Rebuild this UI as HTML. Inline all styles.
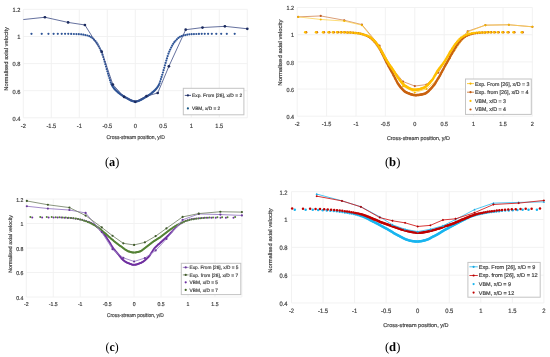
<!DOCTYPE html>
<html><head><meta charset="utf-8"><style>
html,body{margin:0;padding:0;background:#fff;}
body{width:550px;height:357px;overflow:hidden;font-family:"Liberation Sans",sans-serif;}
svg{display:block;filter:blur(0.4px);text-rendering:geometricPrecision;}
</style></head><body>
<svg width="550" height="357" viewBox="0 0 550 357">
<rect width="550" height="357" fill="#fff"/>
<path d="M23.30 9.40V117.80M51.30 9.40V117.80M79.30 9.40V117.80M107.30 9.40V117.80M135.30 9.40V117.80M163.30 9.40V117.80M191.30 9.40V117.80M219.30 9.40V117.80M247.30 9.40V117.80M23.30 117.80H247.30M23.30 90.70H247.30M23.30 63.60H247.30M23.30 36.50H247.30M23.30 9.40H247.30" stroke="#f0f0f0" stroke-width="0.9" fill="none"/>
<text x="23.30" y="127.90" font-size="6.1" text-anchor="middle" fill="#404040" stroke="#404040" stroke-width="0.18" textLength="5.0" lengthAdjust="spacingAndGlyphs" font-family="Liberation Sans" >-2</text>
<text x="51.30" y="127.90" font-size="6.1" text-anchor="middle" fill="#404040" stroke="#404040" stroke-width="0.18" textLength="9.8" lengthAdjust="spacingAndGlyphs" font-family="Liberation Sans" >-1.5</text>
<text x="79.30" y="127.90" font-size="6.1" text-anchor="middle" fill="#404040" stroke="#404040" stroke-width="0.18" textLength="5.0" lengthAdjust="spacingAndGlyphs" font-family="Liberation Sans" >-1</text>
<text x="107.30" y="127.90" font-size="6.1" text-anchor="middle" fill="#404040" stroke="#404040" stroke-width="0.18" textLength="9.8" lengthAdjust="spacingAndGlyphs" font-family="Liberation Sans" >-0.5</text>
<text x="135.30" y="127.90" font-size="6.1" text-anchor="middle" fill="#404040" stroke="#404040" stroke-width="0.18" textLength="3.2" lengthAdjust="spacingAndGlyphs" font-family="Liberation Sans" >0</text>
<text x="163.30" y="127.90" font-size="6.1" text-anchor="middle" fill="#404040" stroke="#404040" stroke-width="0.18" textLength="7.9" lengthAdjust="spacingAndGlyphs" font-family="Liberation Sans" >0.5</text>
<text x="191.30" y="127.90" font-size="6.1" text-anchor="middle" fill="#404040" stroke="#404040" stroke-width="0.18" textLength="3.2" lengthAdjust="spacingAndGlyphs" font-family="Liberation Sans" >1</text>
<text x="219.30" y="127.90" font-size="6.1" text-anchor="middle" fill="#404040" stroke="#404040" stroke-width="0.18" textLength="7.9" lengthAdjust="spacingAndGlyphs" font-family="Liberation Sans" >1.5</text>
<text x="20.40" y="120.60" font-size="6.1" text-anchor="end" fill="#404040" stroke="#404040" stroke-width="0.18" textLength="7.9" lengthAdjust="spacingAndGlyphs" font-family="Liberation Sans" >0.4</text>
<text x="20.40" y="93.50" font-size="6.1" text-anchor="end" fill="#404040" stroke="#404040" stroke-width="0.18" textLength="7.9" lengthAdjust="spacingAndGlyphs" font-family="Liberation Sans" >0.6</text>
<text x="20.40" y="66.40" font-size="6.1" text-anchor="end" fill="#404040" stroke="#404040" stroke-width="0.18" textLength="7.9" lengthAdjust="spacingAndGlyphs" font-family="Liberation Sans" >0.8</text>
<text x="20.40" y="39.30" font-size="6.1" text-anchor="end" fill="#404040" stroke="#404040" stroke-width="0.18" textLength="3.2" lengthAdjust="spacingAndGlyphs" font-family="Liberation Sans" >1</text>
<text x="20.40" y="12.20" font-size="6.1" text-anchor="end" fill="#404040" stroke="#404040" stroke-width="0.18" textLength="7.9" lengthAdjust="spacingAndGlyphs" font-family="Liberation Sans" >1.2</text>
<g fill="#2f5597"><circle cx="31.48" cy="33.79" r="1.1"/><circle cx="41.72" cy="33.79" r="1.1"/><circle cx="48.44" cy="33.79" r="1.1"/><circle cx="53.60" cy="33.79" r="1.1"/><circle cx="57.80" cy="33.79" r="1.1"/><circle cx="61.72" cy="33.79" r="1.1"/><circle cx="65.08" cy="33.80" r="1.1"/><circle cx="68.27" cy="33.84" r="1.1"/><circle cx="71.18" cy="33.90" r="1.1"/><circle cx="73.87" cy="33.98" r="1.1"/><circle cx="76.39" cy="34.07" r="1.1"/><circle cx="78.80" cy="34.17" r="1.1"/><circle cx="81.15" cy="34.35" r="1.1"/><circle cx="83.28" cy="34.65" r="1.1"/><circle cx="85.35" cy="35.05" r="1.1"/><circle cx="87.36" cy="35.52" r="1.1"/><circle cx="89.27" cy="36.18" r="1.1"/><circle cx="91.00" cy="37.06" r="1.1"/><circle cx="92.57" cy="38.25" r="1.1"/><circle cx="94.03" cy="39.64" r="1.1"/><circle cx="95.37" cy="41.12" r="1.1"/><circle cx="96.60" cy="42.66" r="1.1"/><circle cx="97.72" cy="44.37" r="1.1"/><circle cx="98.79" cy="46.25" r="1.1"/><circle cx="99.80" cy="48.24" r="1.1"/><circle cx="100.75" cy="50.28" r="1.1"/><circle cx="101.64" cy="52.35" r="1.1"/><circle cx="102.48" cy="54.66" r="1.1"/><circle cx="103.27" cy="57.10" r="1.1"/><circle cx="104.00" cy="59.48" r="1.1"/><circle cx="104.67" cy="61.73" r="1.1"/><circle cx="105.34" cy="64.14" r="1.1"/><circle cx="106.01" cy="66.62" r="1.1"/><circle cx="106.68" cy="69.04" r="1.1"/><circle cx="107.36" cy="71.35" r="1.1"/><circle cx="108.03" cy="73.64" r="1.1"/><circle cx="108.70" cy="75.87" r="1.1"/><circle cx="109.37" cy="78.00" r="1.1"/><circle cx="110.04" cy="80.19" r="1.1"/><circle cx="110.72" cy="82.33" r="1.1"/><circle cx="111.39" cy="84.18" r="1.1"/><circle cx="112.06" cy="85.51" r="1.1"/><circle cx="112.73" cy="86.60" r="1.1"/><circle cx="113.40" cy="87.56" r="1.1"/><circle cx="114.08" cy="88.42" r="1.1"/><circle cx="114.75" cy="89.19" r="1.1"/><circle cx="115.42" cy="89.90" r="1.1"/><circle cx="116.09" cy="90.56" r="1.1"/><circle cx="116.76" cy="91.19" r="1.1"/><circle cx="117.44" cy="91.80" r="1.1"/><circle cx="118.11" cy="92.39" r="1.1"/><circle cx="118.78" cy="92.96" r="1.1"/><circle cx="119.45" cy="93.50" r="1.1"/><circle cx="120.12" cy="94.01" r="1.1"/><circle cx="120.80" cy="94.50" r="1.1"/><circle cx="121.47" cy="94.98" r="1.1"/><circle cx="122.14" cy="95.43" r="1.1"/><circle cx="122.81" cy="95.86" r="1.1"/><circle cx="123.48" cy="96.27" r="1.1"/><circle cx="124.16" cy="96.66" r="1.1"/><circle cx="124.83" cy="97.04" r="1.1"/><circle cx="125.50" cy="97.41" r="1.1"/><circle cx="126.17" cy="97.80" r="1.1"/><circle cx="126.84" cy="98.19" r="1.1"/><circle cx="127.52" cy="98.58" r="1.1"/><circle cx="128.19" cy="98.97" r="1.1"/><circle cx="128.86" cy="99.35" r="1.1"/><circle cx="129.53" cy="99.72" r="1.1"/><circle cx="130.20" cy="100.07" r="1.1"/><circle cx="130.88" cy="100.39" r="1.1"/><circle cx="131.55" cy="100.69" r="1.1"/><circle cx="132.22" cy="100.95" r="1.1"/><circle cx="132.89" cy="101.17" r="1.1"/><circle cx="133.56" cy="101.34" r="1.1"/><circle cx="134.24" cy="101.46" r="1.1"/><circle cx="134.91" cy="101.53" r="1.1"/><circle cx="136.03" cy="101.50" r="1.1"/><circle cx="136.70" cy="101.41" r="1.1"/><circle cx="137.37" cy="101.26" r="1.1"/><circle cx="138.04" cy="101.06" r="1.1"/><circle cx="138.72" cy="100.82" r="1.1"/><circle cx="139.39" cy="100.55" r="1.1"/><circle cx="140.06" cy="100.24" r="1.1"/><circle cx="140.73" cy="99.90" r="1.1"/><circle cx="141.40" cy="99.54" r="1.1"/><circle cx="142.08" cy="99.16" r="1.1"/><circle cx="142.75" cy="98.78" r="1.1"/><circle cx="143.42" cy="98.38" r="1.1"/><circle cx="144.09" cy="97.99" r="1.1"/><circle cx="144.76" cy="97.60" r="1.1"/><circle cx="145.44" cy="97.22" r="1.1"/><circle cx="146.11" cy="96.85" r="1.1"/><circle cx="146.78" cy="96.47" r="1.1"/><circle cx="147.45" cy="96.07" r="1.1"/><circle cx="148.12" cy="95.64" r="1.1"/><circle cx="148.80" cy="95.20" r="1.1"/><circle cx="149.47" cy="94.74" r="1.1"/><circle cx="150.14" cy="94.26" r="1.1"/><circle cx="150.81" cy="93.76" r="1.1"/><circle cx="151.48" cy="93.23" r="1.1"/><circle cx="152.16" cy="92.68" r="1.1"/><circle cx="152.83" cy="92.10" r="1.1"/><circle cx="153.50" cy="91.50" r="1.1"/><circle cx="154.17" cy="90.88" r="1.1"/><circle cx="154.84" cy="90.23" r="1.1"/><circle cx="155.52" cy="89.55" r="1.1"/><circle cx="156.19" cy="88.82" r="1.1"/><circle cx="156.86" cy="88.00" r="1.1"/><circle cx="157.53" cy="87.09" r="1.1"/><circle cx="158.20" cy="86.07" r="1.1"/><circle cx="158.88" cy="84.90" r="1.1"/><circle cx="159.55" cy="83.31" r="1.1"/><circle cx="160.22" cy="81.28" r="1.1"/><circle cx="160.89" cy="79.08" r="1.1"/><circle cx="161.56" cy="76.95" r="1.1"/><circle cx="162.24" cy="74.76" r="1.1"/><circle cx="162.91" cy="72.50" r="1.1"/><circle cx="163.58" cy="70.20" r="1.1"/><circle cx="164.25" cy="67.84" r="1.1"/><circle cx="164.92" cy="65.38" r="1.1"/><circle cx="165.60" cy="62.92" r="1.1"/><circle cx="166.27" cy="60.58" r="1.1"/><circle cx="166.94" cy="58.38" r="1.1"/><circle cx="167.67" cy="56.03" r="1.1"/><circle cx="168.45" cy="53.69" r="1.1"/><circle cx="169.29" cy="51.55" r="1.1"/><circle cx="170.19" cy="49.54" r="1.1"/><circle cx="171.14" cy="47.55" r="1.1"/><circle cx="172.15" cy="45.63" r="1.1"/><circle cx="173.21" cy="43.83" r="1.1"/><circle cx="174.33" cy="42.21" r="1.1"/><circle cx="175.56" cy="40.74" r="1.1"/><circle cx="176.91" cy="39.30" r="1.1"/><circle cx="178.36" cy="37.97" r="1.1"/><circle cx="179.93" cy="36.86" r="1.1"/><circle cx="181.61" cy="36.06" r="1.1"/><circle cx="183.40" cy="35.47" r="1.1"/><circle cx="185.31" cy="35.04" r="1.1"/><circle cx="187.27" cy="34.66" r="1.1"/><circle cx="189.34" cy="34.36" r="1.1"/><circle cx="191.58" cy="34.18" r="1.1"/><circle cx="193.93" cy="34.08" r="1.1"/><circle cx="196.34" cy="33.99" r="1.1"/><circle cx="198.92" cy="33.92" r="1.1"/><circle cx="201.72" cy="33.85" r="1.1"/><circle cx="204.74" cy="33.81" r="1.1"/><circle cx="208.10" cy="33.79" r="1.1"/><circle cx="211.80" cy="33.79" r="1.1"/><circle cx="216.28" cy="33.79" r="1.1"/><circle cx="221.20" cy="33.79" r="1.1"/><circle cx="226.80" cy="33.79" r="1.1"/><circle cx="234.70" cy="33.79" r="1.1"/></g>
<polyline points="23.30,19.56 44.92,17.26 68.10,22.41 84.90,24.98 101.70,51.68 112.90,84.60 124.10,96.93 135.30,101.81 146.50,96.12 157.70,93.00 168.90,66.31 185.70,29.72 202.50,27.56 224.90,26.34 247.30,28.78" fill="none" stroke="#3d4c85" stroke-width="0.8" stroke-linejoin="round"/>
<g fill="#1b2a5e"><circle cx="44.92" cy="17.26" r="1.35"/><circle cx="68.10" cy="22.41" r="1.35"/><circle cx="84.90" cy="24.98" r="1.35"/><circle cx="101.70" cy="51.68" r="1.35"/><circle cx="112.90" cy="84.60" r="1.35"/><circle cx="124.10" cy="96.93" r="1.35"/><circle cx="135.30" cy="101.81" r="1.35"/><circle cx="146.50" cy="96.12" r="1.35"/><circle cx="157.70" cy="93.00" r="1.35"/><circle cx="168.90" cy="66.31" r="1.35"/><circle cx="185.70" cy="29.72" r="1.35"/><circle cx="202.50" cy="27.56" r="1.35"/><circle cx="224.90" cy="26.34" r="1.35"/><circle cx="247.30" cy="28.78" r="1.35"/></g>
<text x="135.65" y="139.40" font-size="5.5" text-anchor="middle" fill="#404040" stroke="#404040" stroke-width="0.18" textLength="58.3" lengthAdjust="spacingAndGlyphs" font-family="Liberation Sans" >Cross-stream position, y/D</text>
<text transform="translate(6.20,58.90) rotate(-90)" x="0" y="1.98" font-size="5.5" text-anchor="middle" fill="#404040" stroke="#404040" stroke-width="0.18" textLength="63.6" lengthAdjust="spacingAndGlyphs" font-family="Liberation Sans">Normalised axial velocity</text>
<rect x="183.30" y="88.30" width="60.60" height="26.50" fill="#fff" stroke="#c4c4c4" stroke-width="1"/>
<line x1="184.80" y1="95.40" x2="191.00" y2="95.40" stroke="#33447e" stroke-width="0.9"/>
<circle cx="187.90" cy="95.40" r="1.1" fill="#1b2a5e"/>
<text x="192.00" y="97.13" font-size="4.8" text-anchor="start" fill="#404040" stroke="#404040" stroke-width="0.18" textLength="50.1" lengthAdjust="spacingAndGlyphs" font-family="Liberation Sans" >Exp. From [26], x/D = 2</text>
<circle cx="187.90" cy="108.40" r="1.1" fill="#1d5a85"/>
<text x="192.00" y="110.13" font-size="4.8" text-anchor="start" fill="#404040" stroke="#404040" stroke-width="0.18" textLength="28.2" lengthAdjust="spacingAndGlyphs" font-family="Liberation Sans" >VBM, x/D = 2</text>
<path d="M297.20 7.50V116.22M326.60 7.50V116.22M356.00 7.50V116.22M385.40 7.50V116.22M414.80 7.50V116.22M444.20 7.50V116.22M473.60 7.50V116.22M503.00 7.50V116.22M532.40 7.50V116.22M297.20 116.22H532.40M297.20 89.04H532.40M297.20 61.86H532.40M297.20 34.68H532.40M297.20 7.50H532.40" stroke="#f0f0f0" stroke-width="0.9" fill="none"/>
<text x="297.20" y="126.30" font-size="5.9" text-anchor="middle" fill="#404040" stroke="#404040" stroke-width="0.18" textLength="4.9" lengthAdjust="spacingAndGlyphs" font-family="Liberation Sans" >-2</text>
<text x="326.60" y="126.30" font-size="5.9" text-anchor="middle" fill="#404040" stroke="#404040" stroke-width="0.18" textLength="9.5" lengthAdjust="spacingAndGlyphs" font-family="Liberation Sans" >-1.5</text>
<text x="356.00" y="126.30" font-size="5.9" text-anchor="middle" fill="#404040" stroke="#404040" stroke-width="0.18" textLength="4.9" lengthAdjust="spacingAndGlyphs" font-family="Liberation Sans" >-1</text>
<text x="385.40" y="126.30" font-size="5.9" text-anchor="middle" fill="#404040" stroke="#404040" stroke-width="0.18" textLength="9.5" lengthAdjust="spacingAndGlyphs" font-family="Liberation Sans" >-0.5</text>
<text x="414.80" y="126.30" font-size="5.9" text-anchor="middle" fill="#404040" stroke="#404040" stroke-width="0.18" textLength="3.1" lengthAdjust="spacingAndGlyphs" font-family="Liberation Sans" >0</text>
<text x="444.20" y="126.30" font-size="5.9" text-anchor="middle" fill="#404040" stroke="#404040" stroke-width="0.18" textLength="7.6" lengthAdjust="spacingAndGlyphs" font-family="Liberation Sans" >0.5</text>
<text x="473.60" y="126.30" font-size="5.9" text-anchor="middle" fill="#404040" stroke="#404040" stroke-width="0.18" textLength="3.1" lengthAdjust="spacingAndGlyphs" font-family="Liberation Sans" >1</text>
<text x="503.00" y="126.30" font-size="5.9" text-anchor="middle" fill="#404040" stroke="#404040" stroke-width="0.18" textLength="7.6" lengthAdjust="spacingAndGlyphs" font-family="Liberation Sans" >1.5</text>
<text x="532.40" y="126.30" font-size="5.9" text-anchor="middle" fill="#404040" stroke="#404040" stroke-width="0.18" textLength="3.1" lengthAdjust="spacingAndGlyphs" font-family="Liberation Sans" >2</text>
<text x="294.10" y="118.94" font-size="5.9" text-anchor="end" fill="#404040" stroke="#404040" stroke-width="0.18" textLength="7.6" lengthAdjust="spacingAndGlyphs" font-family="Liberation Sans" >0.4</text>
<text x="294.10" y="91.76" font-size="5.9" text-anchor="end" fill="#404040" stroke="#404040" stroke-width="0.18" textLength="7.6" lengthAdjust="spacingAndGlyphs" font-family="Liberation Sans" >0.6</text>
<text x="294.10" y="64.58" font-size="5.9" text-anchor="end" fill="#404040" stroke="#404040" stroke-width="0.18" textLength="7.6" lengthAdjust="spacingAndGlyphs" font-family="Liberation Sans" >0.8</text>
<text x="294.10" y="37.40" font-size="5.9" text-anchor="end" fill="#404040" stroke="#404040" stroke-width="0.18" textLength="3.1" lengthAdjust="spacingAndGlyphs" font-family="Liberation Sans" >1</text>
<text x="294.10" y="10.22" font-size="5.9" text-anchor="end" fill="#404040" stroke="#404040" stroke-width="0.18" textLength="7.6" lengthAdjust="spacingAndGlyphs" font-family="Liberation Sans" >1.2</text>
<polyline points="298.20,16.88 320.72,15.93 344.24,20.27 361.88,24.62 379.52,45.69 391.28,67.30 403.04,81.57 414.80,86.05 426.56,84.56 438.32,72.73 450.08,52.35 467.72,31.28 485.36,25.17 508.88,24.76 532.40,26.80" fill="none" stroke="#cf7d48" stroke-width="0.75" stroke-linejoin="round"/>
<g fill="#c05a20"><circle cx="298.20" cy="16.88" r="1.1"/><circle cx="320.72" cy="15.93" r="1.1"/><circle cx="344.24" cy="20.27" r="1.1"/><circle cx="361.88" cy="24.62" r="1.1"/><circle cx="379.52" cy="45.69" r="1.1"/><circle cx="391.28" cy="67.30" r="1.1"/><circle cx="403.04" cy="81.57" r="1.1"/><circle cx="414.80" cy="86.05" r="1.1"/><circle cx="426.56" cy="84.56" r="1.1"/><circle cx="438.32" cy="72.73" r="1.1"/><circle cx="450.08" cy="52.35" r="1.1"/><circle cx="467.72" cy="31.28" r="1.1"/><circle cx="485.36" cy="25.17" r="1.1"/><circle cx="508.88" cy="24.76" r="1.1"/><circle cx="532.40" cy="26.80" r="1.1"/></g>
<polyline points="298.20,16.88 320.72,19.46 344.24,21.09 361.88,25.17 379.52,46.91 391.28,68.66 403.04,86.32 414.80,92.44 426.56,89.04 438.32,78.58 450.08,57.78 467.72,31.96 485.36,25.17 508.88,24.76 532.40,26.80" fill="none" stroke="#fcd04a" stroke-width="0.75" stroke-linejoin="round"/>
<g fill="#f2b800"><circle cx="298.20" cy="16.88" r="1.0"/><circle cx="320.72" cy="19.46" r="1.0"/><circle cx="344.24" cy="21.09" r="1.0"/><circle cx="361.88" cy="25.17" r="1.0"/><circle cx="379.52" cy="46.91" r="1.0"/><circle cx="391.28" cy="68.66" r="1.0"/><circle cx="403.04" cy="86.32" r="1.0"/><circle cx="414.80" cy="92.44" r="1.0"/><circle cx="426.56" cy="89.04" r="1.0"/><circle cx="438.32" cy="78.58" r="1.0"/><circle cx="450.08" cy="57.78" r="1.0"/><circle cx="467.72" cy="31.96" r="1.0"/><circle cx="485.36" cy="25.17" r="1.0"/><circle cx="508.88" cy="24.76" r="1.0"/><circle cx="532.40" cy="26.80" r="1.0"/></g>
<g fill="#c9620f"><circle cx="306.10" cy="32.25" r="1.25"/><circle cx="316.86" cy="32.27" r="1.25"/><circle cx="323.91" cy="32.28" r="1.25"/><circle cx="329.32" cy="32.30" r="1.25"/><circle cx="333.73" cy="32.31" r="1.25"/><circle cx="337.85" cy="32.33" r="1.25"/><circle cx="341.38" cy="32.35" r="1.25"/><circle cx="344.73" cy="32.37" r="1.25"/><circle cx="347.79" cy="32.42" r="1.25"/><circle cx="350.61" cy="32.55" r="1.25"/><circle cx="353.25" cy="32.73" r="1.25"/><circle cx="355.78" cy="32.94" r="1.25"/><circle cx="358.25" cy="33.22" r="1.25"/><circle cx="360.49" cy="33.68" r="1.25"/><circle cx="362.66" cy="34.24" r="1.25"/><circle cx="364.78" cy="34.92" r="1.25"/><circle cx="366.78" cy="35.76" r="1.25"/><circle cx="368.60" cy="36.69" r="1.25"/><circle cx="370.25" cy="37.76" r="1.25"/><circle cx="371.78" cy="39.03" r="1.25"/><circle cx="373.19" cy="40.35" r="1.25"/><circle cx="374.48" cy="41.70" r="1.25"/><circle cx="375.66" cy="43.09" r="1.25"/><circle cx="376.77" cy="44.54" r="1.25"/><circle cx="377.83" cy="46.02" r="1.25"/><circle cx="378.83" cy="47.50" r="1.25"/><circle cx="379.77" cy="49.02" r="1.25"/><circle cx="380.66" cy="50.59" r="1.25"/><circle cx="381.48" cy="52.16" r="1.25"/><circle cx="382.24" cy="53.68" r="1.25"/><circle cx="382.95" cy="55.12" r="1.25"/><circle cx="383.65" cy="56.57" r="1.25"/><circle cx="384.36" cy="58.02" r="1.25"/><circle cx="385.07" cy="59.45" r="1.25"/><circle cx="385.77" cy="60.85" r="1.25"/><circle cx="386.48" cy="62.19" r="1.25"/><circle cx="387.18" cy="63.51" r="1.25"/><circle cx="387.89" cy="64.82" r="1.25"/><circle cx="388.59" cy="66.13" r="1.25"/><circle cx="389.30" cy="67.42" r="1.25"/><circle cx="390.00" cy="68.71" r="1.25"/><circle cx="390.71" cy="70.00" r="1.25"/><circle cx="391.42" cy="71.28" r="1.25"/><circle cx="392.12" cy="72.56" r="1.25"/><circle cx="392.83" cy="73.84" r="1.25"/><circle cx="393.53" cy="75.16" r="1.25"/><circle cx="394.24" cy="76.52" r="1.25"/><circle cx="394.94" cy="77.90" r="1.25"/><circle cx="395.65" cy="79.28" r="1.25"/><circle cx="396.35" cy="80.63" r="1.25"/><circle cx="397.06" cy="81.93" r="1.25"/><circle cx="397.77" cy="83.17" r="1.25"/><circle cx="398.47" cy="84.32" r="1.25"/><circle cx="399.18" cy="85.36" r="1.25"/><circle cx="399.88" cy="86.27" r="1.25"/><circle cx="400.59" cy="87.13" r="1.25"/><circle cx="401.29" cy="87.97" r="1.25"/><circle cx="402.00" cy="88.77" r="1.25"/><circle cx="402.71" cy="89.53" r="1.25"/><circle cx="403.41" cy="90.24" r="1.25"/><circle cx="404.12" cy="90.89" r="1.25"/><circle cx="404.82" cy="91.46" r="1.25"/><circle cx="405.53" cy="91.95" r="1.25"/><circle cx="406.23" cy="92.35" r="1.25"/><circle cx="406.94" cy="92.68" r="1.25"/><circle cx="407.64" cy="93.00" r="1.25"/><circle cx="408.35" cy="93.30" r="1.25"/><circle cx="409.06" cy="93.60" r="1.25"/><circle cx="409.76" cy="93.87" r="1.25"/><circle cx="410.47" cy="94.13" r="1.25"/><circle cx="411.17" cy="94.37" r="1.25"/><circle cx="411.88" cy="94.58" r="1.25"/><circle cx="412.58" cy="94.76" r="1.25"/><circle cx="413.29" cy="94.91" r="1.25"/><circle cx="413.99" cy="95.03" r="1.25"/><circle cx="414.70" cy="95.11" r="1.25"/><circle cx="415.41" cy="95.15" r="1.25"/><circle cx="416.17" cy="95.15" r="1.25"/><circle cx="416.88" cy="95.12" r="1.25"/><circle cx="417.58" cy="95.08" r="1.25"/><circle cx="418.29" cy="95.01" r="1.25"/><circle cx="418.99" cy="94.92" r="1.25"/><circle cx="419.70" cy="94.82" r="1.25"/><circle cx="420.40" cy="94.70" r="1.25"/><circle cx="421.11" cy="94.57" r="1.25"/><circle cx="421.82" cy="94.42" r="1.25"/><circle cx="422.52" cy="94.27" r="1.25"/><circle cx="423.23" cy="94.10" r="1.25"/><circle cx="423.93" cy="93.92" r="1.25"/><circle cx="424.64" cy="93.73" r="1.25"/><circle cx="425.34" cy="93.45" r="1.25"/><circle cx="426.05" cy="93.07" r="1.25"/><circle cx="426.75" cy="92.61" r="1.25"/><circle cx="427.46" cy="92.07" r="1.25"/><circle cx="428.17" cy="91.46" r="1.25"/><circle cx="428.87" cy="90.79" r="1.25"/><circle cx="429.58" cy="90.07" r="1.25"/><circle cx="430.28" cy="89.31" r="1.25"/><circle cx="430.99" cy="88.53" r="1.25"/><circle cx="431.69" cy="87.73" r="1.25"/><circle cx="432.40" cy="86.93" r="1.25"/><circle cx="433.10" cy="86.12" r="1.25"/><circle cx="433.81" cy="85.22" r="1.25"/><circle cx="434.52" cy="84.23" r="1.25"/><circle cx="435.22" cy="83.15" r="1.25"/><circle cx="435.93" cy="82.03" r="1.25"/><circle cx="436.63" cy="80.89" r="1.25"/><circle cx="437.34" cy="79.75" r="1.25"/><circle cx="438.04" cy="78.59" r="1.25"/><circle cx="438.75" cy="77.39" r="1.25"/><circle cx="439.46" cy="76.17" r="1.25"/><circle cx="440.16" cy="74.92" r="1.25"/><circle cx="440.87" cy="73.65" r="1.25"/><circle cx="441.57" cy="72.36" r="1.25"/><circle cx="442.28" cy="71.06" r="1.25"/><circle cx="442.98" cy="69.75" r="1.25"/><circle cx="443.69" cy="68.44" r="1.25"/><circle cx="444.39" cy="67.12" r="1.25"/><circle cx="445.10" cy="65.82" r="1.25"/><circle cx="445.81" cy="64.52" r="1.25"/><circle cx="446.51" cy="63.23" r="1.25"/><circle cx="447.22" cy="61.96" r="1.25"/><circle cx="447.92" cy="60.70" r="1.25"/><circle cx="448.63" cy="59.43" r="1.25"/><circle cx="449.33" cy="58.15" r="1.25"/><circle cx="450.04" cy="56.87" r="1.25"/><circle cx="450.74" cy="55.60" r="1.25"/><circle cx="451.45" cy="54.35" r="1.25"/><circle cx="452.21" cy="53.00" r="1.25"/><circle cx="453.04" cy="51.59" r="1.25"/><circle cx="453.92" cy="50.13" r="1.25"/><circle cx="454.86" cy="48.60" r="1.25"/><circle cx="455.86" cy="46.97" r="1.25"/><circle cx="456.92" cy="45.30" r="1.25"/><circle cx="458.04" cy="43.66" r="1.25"/><circle cx="459.21" cy="42.15" r="1.25"/><circle cx="460.51" cy="40.72" r="1.25"/><circle cx="461.92" cy="39.32" r="1.25"/><circle cx="463.45" cy="38.02" r="1.25"/><circle cx="465.09" cy="36.85" r="1.25"/><circle cx="466.86" cy="35.78" r="1.25"/><circle cx="468.74" cy="34.91" r="1.25"/><circle cx="470.74" cy="34.21" r="1.25"/><circle cx="472.79" cy="33.63" r="1.25"/><circle cx="474.97" cy="33.26" r="1.25"/><circle cx="477.32" cy="32.97" r="1.25"/><circle cx="479.79" cy="32.71" r="1.25"/><circle cx="482.32" cy="32.51" r="1.25"/><circle cx="485.03" cy="32.39" r="1.25"/><circle cx="487.97" cy="32.36" r="1.25"/><circle cx="491.14" cy="32.34" r="1.25"/><circle cx="494.67" cy="32.32" r="1.25"/><circle cx="498.55" cy="32.31" r="1.25"/><circle cx="503.25" cy="32.29" r="1.25"/><circle cx="508.43" cy="32.28" r="1.25"/><circle cx="514.31" cy="32.27" r="1.25"/><circle cx="522.60" cy="32.26" r="1.25"/></g>
<g fill="#ffbf00"><circle cx="305.20" cy="32.25" r="1.25"/><circle cx="315.96" cy="32.27" r="1.25"/><circle cx="323.01" cy="32.28" r="1.25"/><circle cx="328.42" cy="32.30" r="1.25"/><circle cx="332.83" cy="32.31" r="1.25"/><circle cx="336.95" cy="32.33" r="1.25"/><circle cx="340.48" cy="32.35" r="1.25"/><circle cx="343.83" cy="32.37" r="1.25"/><circle cx="346.89" cy="32.42" r="1.25"/><circle cx="349.71" cy="32.56" r="1.25"/><circle cx="352.35" cy="32.74" r="1.25"/><circle cx="354.88" cy="32.95" r="1.25"/><circle cx="357.35" cy="33.21" r="1.25"/><circle cx="359.59" cy="33.62" r="1.25"/><circle cx="361.76" cy="34.11" r="1.25"/><circle cx="363.88" cy="34.65" r="1.25"/><circle cx="365.88" cy="35.29" r="1.25"/><circle cx="367.70" cy="36.01" r="1.25"/><circle cx="369.35" cy="36.85" r="1.25"/><circle cx="370.88" cy="37.83" r="1.25"/><circle cx="372.29" cy="38.90" r="1.25"/><circle cx="373.58" cy="40.00" r="1.25"/><circle cx="374.76" cy="41.21" r="1.25"/><circle cx="375.87" cy="42.56" r="1.25"/><circle cx="376.93" cy="43.98" r="1.25"/><circle cx="377.93" cy="45.41" r="1.25"/><circle cx="378.87" cy="46.79" r="1.25"/><circle cx="379.76" cy="48.14" r="1.25"/><circle cx="380.58" cy="49.51" r="1.25"/><circle cx="381.34" cy="50.87" r="1.25"/><circle cx="382.05" cy="52.17" r="1.25"/><circle cx="382.75" cy="53.50" r="1.25"/><circle cx="383.46" cy="54.83" r="1.25"/><circle cx="384.17" cy="56.14" r="1.25"/><circle cx="384.87" cy="57.41" r="1.25"/><circle cx="385.58" cy="58.62" r="1.25"/><circle cx="386.28" cy="59.80" r="1.25"/><circle cx="386.99" cy="60.94" r="1.25"/><circle cx="387.69" cy="62.04" r="1.25"/><circle cx="388.40" cy="63.10" r="1.25"/><circle cx="389.10" cy="64.13" r="1.25"/><circle cx="389.81" cy="65.13" r="1.25"/><circle cx="390.52" cy="66.13" r="1.25"/><circle cx="391.22" cy="67.13" r="1.25"/><circle cx="391.93" cy="68.15" r="1.25"/><circle cx="392.63" cy="69.19" r="1.25"/><circle cx="393.34" cy="70.28" r="1.25"/><circle cx="394.04" cy="71.41" r="1.25"/><circle cx="394.75" cy="72.55" r="1.25"/><circle cx="395.45" cy="73.70" r="1.25"/><circle cx="396.16" cy="74.84" r="1.25"/><circle cx="396.87" cy="75.94" r="1.25"/><circle cx="397.57" cy="77.01" r="1.25"/><circle cx="398.28" cy="78.01" r="1.25"/><circle cx="398.98" cy="78.94" r="1.25"/><circle cx="399.69" cy="79.85" r="1.25"/><circle cx="400.39" cy="80.76" r="1.25"/><circle cx="401.10" cy="81.66" r="1.25"/><circle cx="401.81" cy="82.52" r="1.25"/><circle cx="402.51" cy="83.35" r="1.25"/><circle cx="403.22" cy="84.12" r="1.25"/><circle cx="403.92" cy="84.81" r="1.25"/><circle cx="404.63" cy="85.43" r="1.25"/><circle cx="405.33" cy="85.94" r="1.25"/><circle cx="406.04" cy="86.37" r="1.25"/><circle cx="406.74" cy="86.80" r="1.25"/><circle cx="407.45" cy="87.22" r="1.25"/><circle cx="408.16" cy="87.63" r="1.25"/><circle cx="408.86" cy="88.02" r="1.25"/><circle cx="409.57" cy="88.38" r="1.25"/><circle cx="410.27" cy="88.72" r="1.25"/><circle cx="410.98" cy="89.02" r="1.25"/><circle cx="411.68" cy="89.28" r="1.25"/><circle cx="412.39" cy="89.50" r="1.25"/><circle cx="413.09" cy="89.67" r="1.25"/><circle cx="413.80" cy="89.79" r="1.25"/><circle cx="414.51" cy="89.85" r="1.25"/><circle cx="415.27" cy="89.85" r="1.25"/><circle cx="415.98" cy="89.81" r="1.25"/><circle cx="416.68" cy="89.73" r="1.25"/><circle cx="417.39" cy="89.62" r="1.25"/><circle cx="418.09" cy="89.49" r="1.25"/><circle cx="418.80" cy="89.33" r="1.25"/><circle cx="419.50" cy="89.15" r="1.25"/><circle cx="420.21" cy="88.95" r="1.25"/><circle cx="420.92" cy="88.73" r="1.25"/><circle cx="421.62" cy="88.49" r="1.25"/><circle cx="422.33" cy="88.25" r="1.25"/><circle cx="423.03" cy="87.99" r="1.25"/><circle cx="423.74" cy="87.72" r="1.25"/><circle cx="424.44" cy="87.39" r="1.25"/><circle cx="425.15" cy="86.97" r="1.25"/><circle cx="425.85" cy="86.48" r="1.25"/><circle cx="426.56" cy="85.92" r="1.25"/><circle cx="427.27" cy="85.31" r="1.25"/><circle cx="427.97" cy="84.64" r="1.25"/><circle cx="428.68" cy="83.92" r="1.25"/><circle cx="429.38" cy="83.17" r="1.25"/><circle cx="430.09" cy="82.39" r="1.25"/><circle cx="430.79" cy="81.58" r="1.25"/><circle cx="431.50" cy="80.76" r="1.25"/><circle cx="432.20" cy="79.90" r="1.25"/><circle cx="432.91" cy="78.91" r="1.25"/><circle cx="433.62" cy="77.79" r="1.25"/><circle cx="434.32" cy="76.58" r="1.25"/><circle cx="435.03" cy="75.31" r="1.25"/><circle cx="435.73" cy="74.04" r="1.25"/><circle cx="436.44" cy="72.79" r="1.25"/><circle cx="437.14" cy="71.61" r="1.25"/><circle cx="437.85" cy="70.52" r="1.25"/><circle cx="438.56" cy="69.52" r="1.25"/><circle cx="439.26" cy="68.56" r="1.25"/><circle cx="439.97" cy="67.64" r="1.25"/><circle cx="440.67" cy="66.73" r="1.25"/><circle cx="441.38" cy="65.84" r="1.25"/><circle cx="442.08" cy="64.93" r="1.25"/><circle cx="442.79" cy="64.01" r="1.25"/><circle cx="443.49" cy="63.04" r="1.25"/><circle cx="444.20" cy="62.03" r="1.25"/><circle cx="444.91" cy="60.96" r="1.25"/><circle cx="445.61" cy="59.83" r="1.25"/><circle cx="446.32" cy="58.65" r="1.25"/><circle cx="447.02" cy="57.44" r="1.25"/><circle cx="447.73" cy="56.20" r="1.25"/><circle cx="448.43" cy="54.97" r="1.25"/><circle cx="449.14" cy="53.73" r="1.25"/><circle cx="449.84" cy="52.52" r="1.25"/><circle cx="450.55" cy="51.35" r="1.25"/><circle cx="451.31" cy="50.13" r="1.25"/><circle cx="452.14" cy="48.85" r="1.25"/><circle cx="453.02" cy="47.49" r="1.25"/><circle cx="453.96" cy="46.05" r="1.25"/><circle cx="454.96" cy="44.59" r="1.25"/><circle cx="456.02" cy="43.13" r="1.25"/><circle cx="457.14" cy="41.75" r="1.25"/><circle cx="458.31" cy="40.40" r="1.25"/><circle cx="459.61" cy="39.01" r="1.25"/><circle cx="461.02" cy="37.72" r="1.25"/><circle cx="462.55" cy="36.69" r="1.25"/><circle cx="464.19" cy="35.80" r="1.25"/><circle cx="465.96" cy="35.03" r="1.25"/><circle cx="467.84" cy="34.37" r="1.25"/><circle cx="469.84" cy="33.79" r="1.25"/><circle cx="471.89" cy="33.30" r="1.25"/><circle cx="474.07" cy="33.00" r="1.25"/><circle cx="476.42" cy="32.79" r="1.25"/><circle cx="478.89" cy="32.61" r="1.25"/><circle cx="481.42" cy="32.47" r="1.25"/><circle cx="484.13" cy="32.39" r="1.25"/><circle cx="487.07" cy="32.36" r="1.25"/><circle cx="490.24" cy="32.34" r="1.25"/><circle cx="493.77" cy="32.32" r="1.25"/><circle cx="497.65" cy="32.31" r="1.25"/><circle cx="502.35" cy="32.29" r="1.25"/><circle cx="507.53" cy="32.28" r="1.25"/><circle cx="513.41" cy="32.27" r="1.25"/><circle cx="521.70" cy="32.26" r="1.25"/></g>
<text x="418.40" y="139.60" font-size="5.5" text-anchor="middle" fill="#404040" stroke="#404040" stroke-width="0.18" textLength="63.0" lengthAdjust="spacingAndGlyphs" font-family="Liberation Sans" >Cross-stream position, y/D</text>
<text transform="translate(279.80,52.60) rotate(-90)" x="0" y="1.98" font-size="5.5" text-anchor="middle" fill="#404040" stroke="#404040" stroke-width="0.18" textLength="66.2" lengthAdjust="spacingAndGlyphs" font-family="Liberation Sans">Normalised axial velocity</text>
<rect x="465.50" y="79.00" width="65.80" height="35.40" fill="#fff" stroke="#c4c4c4" stroke-width="1"/>
<line x1="467.00" y1="83.60" x2="474.00" y2="83.60" stroke="#ffc829" stroke-width="0.9"/>
<circle cx="470.50" cy="83.60" r="1.1" fill="#f0b000"/>
<text x="475.00" y="85.51" font-size="5.3" text-anchor="start" fill="#404040" stroke="#404040" stroke-width="0.18" textLength="54.5" lengthAdjust="spacingAndGlyphs" font-family="Liberation Sans" >Exp. From [26], x/D = 3</text>
<line x1="467.00" y1="92.20" x2="474.00" y2="92.20" stroke="#cf7a3a" stroke-width="0.9"/>
<circle cx="470.50" cy="92.20" r="1.1" fill="#c0580f"/>
<text x="475.00" y="94.11" font-size="5.3" text-anchor="start" fill="#404040" stroke="#404040" stroke-width="0.18" textLength="53.6" lengthAdjust="spacingAndGlyphs" font-family="Liberation Sans" >Exp. from [26], x/D = 4</text>
<circle cx="470.50" cy="100.90" r="1.1" fill="#ffbf00"/>
<text x="475.00" y="102.81" font-size="5.3" text-anchor="start" fill="#404040" stroke="#404040" stroke-width="0.18" textLength="30.9" lengthAdjust="spacingAndGlyphs" font-family="Liberation Sans" >VBM, x/D = 3</text>
<circle cx="470.50" cy="109.50" r="1.1" fill="#c55a11"/>
<text x="475.00" y="111.41" font-size="5.3" text-anchor="start" fill="#404040" stroke="#404040" stroke-width="0.18" textLength="30.9" lengthAdjust="spacingAndGlyphs" font-family="Liberation Sans" >VBM, x/D = 4</text>
<path d="M26.30 199.00V297.00M53.25 199.00V297.00M80.20 199.00V297.00M107.15 199.00V297.00M134.10 199.00V297.00M161.05 199.00V297.00M188.00 199.00V297.00M214.95 199.00V297.00M241.90 199.00V297.00M26.30 297.00H241.90M26.30 272.50H241.90M26.30 248.00H241.90M26.30 223.50H241.90M26.30 199.00H241.90" stroke="#f0f0f0" stroke-width="0.9" fill="none"/>
<text x="26.30" y="306.00" font-size="5.6" text-anchor="middle" fill="#404040" stroke="#404040" stroke-width="0.18" textLength="4.6" lengthAdjust="spacingAndGlyphs" font-family="Liberation Sans" >-2</text>
<text x="53.25" y="306.00" font-size="5.6" text-anchor="middle" fill="#404040" stroke="#404040" stroke-width="0.18" textLength="9.0" lengthAdjust="spacingAndGlyphs" font-family="Liberation Sans" >-1.5</text>
<text x="80.20" y="306.00" font-size="5.6" text-anchor="middle" fill="#404040" stroke="#404040" stroke-width="0.18" textLength="4.6" lengthAdjust="spacingAndGlyphs" font-family="Liberation Sans" >-1</text>
<text x="107.15" y="306.00" font-size="5.6" text-anchor="middle" fill="#404040" stroke="#404040" stroke-width="0.18" textLength="9.0" lengthAdjust="spacingAndGlyphs" font-family="Liberation Sans" >-0.5</text>
<text x="134.10" y="306.00" font-size="5.6" text-anchor="middle" fill="#404040" stroke="#404040" stroke-width="0.18" textLength="2.9" lengthAdjust="spacingAndGlyphs" font-family="Liberation Sans" >0</text>
<text x="161.05" y="306.00" font-size="5.6" text-anchor="middle" fill="#404040" stroke="#404040" stroke-width="0.18" textLength="7.2" lengthAdjust="spacingAndGlyphs" font-family="Liberation Sans" >0.5</text>
<text x="188.00" y="306.00" font-size="5.6" text-anchor="middle" fill="#404040" stroke="#404040" stroke-width="0.18" textLength="2.9" lengthAdjust="spacingAndGlyphs" font-family="Liberation Sans" >1</text>
<text x="214.95" y="306.00" font-size="5.6" text-anchor="middle" fill="#404040" stroke="#404040" stroke-width="0.18" textLength="7.2" lengthAdjust="spacingAndGlyphs" font-family="Liberation Sans" >1.5</text>
<text x="23.40" y="299.62" font-size="5.6" text-anchor="end" fill="#404040" stroke="#404040" stroke-width="0.18" textLength="7.2" lengthAdjust="spacingAndGlyphs" font-family="Liberation Sans" >0.4</text>
<text x="23.40" y="275.12" font-size="5.6" text-anchor="end" fill="#404040" stroke="#404040" stroke-width="0.18" textLength="7.2" lengthAdjust="spacingAndGlyphs" font-family="Liberation Sans" >0.6</text>
<text x="23.40" y="250.62" font-size="5.6" text-anchor="end" fill="#404040" stroke="#404040" stroke-width="0.18" textLength="7.2" lengthAdjust="spacingAndGlyphs" font-family="Liberation Sans" >0.8</text>
<text x="23.40" y="226.12" font-size="5.6" text-anchor="end" fill="#404040" stroke="#404040" stroke-width="0.18" textLength="2.9" lengthAdjust="spacingAndGlyphs" font-family="Liberation Sans" >1</text>
<text x="23.40" y="201.62" font-size="5.6" text-anchor="end" fill="#404040" stroke="#404040" stroke-width="0.18" textLength="7.2" lengthAdjust="spacingAndGlyphs" font-family="Liberation Sans" >1.2</text>
<g fill="#7030a0"><circle cx="32.28" cy="217.38" r="1.0"/><circle cx="42.15" cy="217.38" r="1.0"/><circle cx="48.61" cy="217.38" r="1.0"/><circle cx="53.57" cy="217.38" r="1.0"/><circle cx="57.62" cy="217.43" r="1.0"/><circle cx="61.39" cy="217.56" r="1.0"/><circle cx="64.62" cy="217.71" r="1.0"/><circle cx="67.70" cy="217.88" r="1.0"/><circle cx="70.50" cy="218.06" r="1.0"/><circle cx="73.09" cy="218.32" r="1.0"/><circle cx="75.51" cy="218.65" r="1.0"/><circle cx="77.83" cy="219.02" r="1.0"/><circle cx="80.09" cy="219.44" r="1.0"/><circle cx="82.14" cy="219.87" r="1.0"/><circle cx="84.13" cy="220.39" r="1.0"/><circle cx="86.08" cy="220.99" r="1.0"/><circle cx="87.91" cy="221.63" r="1.0"/><circle cx="89.58" cy="222.29" r="1.0"/><circle cx="91.09" cy="222.94" r="1.0"/><circle cx="92.49" cy="223.66" r="1.0"/><circle cx="93.78" cy="224.46" r="1.0"/><circle cx="94.97" cy="225.29" r="1.0"/><circle cx="96.05" cy="226.11" r="1.0"/><circle cx="97.07" cy="226.93" r="1.0"/><circle cx="98.04" cy="227.74" r="1.0"/><circle cx="98.96" cy="228.55" r="1.0"/><circle cx="99.82" cy="229.39" r="1.0"/><circle cx="100.63" cy="230.22" r="1.0"/><circle cx="101.38" cy="231.04" r="1.0"/><circle cx="102.08" cy="231.84" r="1.0"/><circle cx="102.73" cy="232.60" r="1.0"/><circle cx="103.38" cy="233.38" r="1.0"/><circle cx="104.02" cy="234.18" r="1.0"/><circle cx="104.67" cy="235.00" r="1.0"/><circle cx="105.32" cy="235.85" r="1.0"/><circle cx="105.96" cy="236.74" r="1.0"/><circle cx="106.61" cy="237.69" r="1.0"/><circle cx="107.26" cy="238.66" r="1.0"/><circle cx="107.90" cy="239.66" r="1.0"/><circle cx="108.55" cy="240.68" r="1.0"/><circle cx="109.20" cy="241.71" r="1.0"/><circle cx="109.85" cy="242.73" r="1.0"/><circle cx="110.49" cy="243.80" r="1.0"/><circle cx="111.14" cy="244.92" r="1.0"/><circle cx="111.79" cy="246.04" r="1.0"/><circle cx="112.43" cy="247.11" r="1.0"/><circle cx="113.08" cy="248.08" r="1.0"/><circle cx="113.73" cy="248.95" r="1.0"/><circle cx="114.37" cy="249.76" r="1.0"/><circle cx="115.02" cy="250.53" r="1.0"/><circle cx="115.67" cy="251.28" r="1.0"/><circle cx="116.31" cy="252.01" r="1.0"/><circle cx="116.96" cy="252.74" r="1.0"/><circle cx="117.61" cy="253.49" r="1.0"/><circle cx="118.25" cy="254.28" r="1.0"/><circle cx="118.90" cy="255.10" r="1.0"/><circle cx="119.55" cy="255.95" r="1.0"/><circle cx="120.19" cy="256.80" r="1.0"/><circle cx="120.84" cy="257.62" r="1.0"/><circle cx="121.49" cy="258.40" r="1.0"/><circle cx="122.13" cy="259.11" r="1.0"/><circle cx="122.78" cy="259.74" r="1.0"/><circle cx="123.43" cy="260.30" r="1.0"/><circle cx="124.07" cy="260.84" r="1.0"/><circle cx="124.72" cy="261.32" r="1.0"/><circle cx="125.37" cy="261.73" r="1.0"/><circle cx="126.02" cy="262.07" r="1.0"/><circle cx="126.66" cy="262.39" r="1.0"/><circle cx="127.31" cy="262.71" r="1.0"/><circle cx="127.96" cy="263.02" r="1.0"/><circle cx="128.60" cy="263.32" r="1.0"/><circle cx="129.25" cy="263.60" r="1.0"/><circle cx="129.90" cy="263.87" r="1.0"/><circle cx="130.54" cy="264.10" r="1.0"/><circle cx="131.19" cy="264.31" r="1.0"/><circle cx="131.84" cy="264.49" r="1.0"/><circle cx="132.48" cy="264.63" r="1.0"/><circle cx="133.13" cy="264.73" r="1.0"/><circle cx="133.78" cy="264.78" r="1.0"/><circle cx="134.64" cy="264.76" r="1.0"/><circle cx="135.29" cy="264.70" r="1.0"/><circle cx="135.93" cy="264.58" r="1.0"/><circle cx="136.58" cy="264.43" r="1.0"/><circle cx="137.23" cy="264.24" r="1.0"/><circle cx="137.87" cy="264.02" r="1.0"/><circle cx="138.52" cy="263.78" r="1.0"/><circle cx="139.17" cy="263.53" r="1.0"/><circle cx="139.81" cy="263.26" r="1.0"/><circle cx="140.46" cy="262.98" r="1.0"/><circle cx="141.11" cy="262.70" r="1.0"/><circle cx="141.75" cy="262.40" r="1.0"/><circle cx="142.40" cy="262.04" r="1.0"/><circle cx="143.05" cy="261.64" r="1.0"/><circle cx="143.69" cy="261.19" r="1.0"/><circle cx="144.34" cy="260.71" r="1.0"/><circle cx="144.99" cy="260.19" r="1.0"/><circle cx="145.63" cy="259.63" r="1.0"/><circle cx="146.28" cy="259.05" r="1.0"/><circle cx="146.93" cy="258.44" r="1.0"/><circle cx="147.57" cy="257.81" r="1.0"/><circle cx="148.22" cy="257.16" r="1.0"/><circle cx="148.87" cy="256.47" r="1.0"/><circle cx="149.52" cy="255.66" r="1.0"/><circle cx="150.16" cy="254.74" r="1.0"/><circle cx="150.81" cy="253.75" r="1.0"/><circle cx="151.46" cy="252.72" r="1.0"/><circle cx="152.10" cy="251.68" r="1.0"/><circle cx="152.75" cy="250.66" r="1.0"/><circle cx="153.40" cy="249.69" r="1.0"/><circle cx="154.04" cy="248.79" r="1.0"/><circle cx="154.69" cy="248.00" r="1.0"/><circle cx="155.34" cy="247.30" r="1.0"/><circle cx="155.98" cy="246.64" r="1.0"/><circle cx="156.63" cy="246.02" r="1.0"/><circle cx="157.28" cy="245.42" r="1.0"/><circle cx="157.92" cy="244.85" r="1.0"/><circle cx="158.57" cy="244.29" r="1.0"/><circle cx="159.22" cy="243.73" r="1.0"/><circle cx="159.86" cy="243.17" r="1.0"/><circle cx="160.51" cy="242.61" r="1.0"/><circle cx="161.16" cy="242.02" r="1.0"/><circle cx="161.80" cy="241.43" r="1.0"/><circle cx="162.45" cy="240.85" r="1.0"/><circle cx="163.10" cy="240.27" r="1.0"/><circle cx="163.74" cy="239.70" r="1.0"/><circle cx="164.39" cy="239.12" r="1.0"/><circle cx="165.04" cy="238.53" r="1.0"/><circle cx="165.69" cy="237.93" r="1.0"/><circle cx="166.33" cy="237.32" r="1.0"/><circle cx="166.98" cy="236.70" r="1.0"/><circle cx="167.63" cy="236.07" r="1.0"/><circle cx="168.27" cy="235.43" r="1.0"/><circle cx="168.97" cy="234.73" r="1.0"/><circle cx="169.73" cy="233.95" r="1.0"/><circle cx="170.54" cy="233.11" r="1.0"/><circle cx="171.40" cy="232.17" r="1.0"/><circle cx="172.32" cy="231.13" r="1.0"/><circle cx="173.29" cy="230.02" r="1.0"/><circle cx="174.31" cy="228.90" r="1.0"/><circle cx="175.39" cy="227.81" r="1.0"/><circle cx="176.57" cy="226.65" r="1.0"/><circle cx="177.87" cy="225.48" r="1.0"/><circle cx="179.27" cy="224.41" r="1.0"/><circle cx="180.78" cy="223.40" r="1.0"/><circle cx="182.39" cy="222.43" r="1.0"/><circle cx="184.12" cy="221.54" r="1.0"/><circle cx="185.95" cy="220.81" r="1.0"/><circle cx="187.84" cy="220.17" r="1.0"/><circle cx="189.83" cy="219.58" r="1.0"/><circle cx="191.99" cy="219.08" r="1.0"/><circle cx="194.25" cy="218.73" r="1.0"/><circle cx="196.57" cy="218.43" r="1.0"/><circle cx="199.05" cy="218.16" r="1.0"/><circle cx="201.74" cy="217.95" r="1.0"/><circle cx="204.66" cy="217.86" r="1.0"/><circle cx="207.89" cy="217.82" r="1.0"/><circle cx="211.45" cy="217.78" r="1.0"/><circle cx="215.76" cy="217.75" r="1.0"/><circle cx="220.50" cy="217.72" r="1.0"/><circle cx="225.89" cy="217.69" r="1.0"/><circle cx="233.49" cy="217.66" r="1.0"/></g>
<g fill="#548235"><circle cx="30.40" cy="217.02" r="1.0"/><circle cx="40.26" cy="217.06" r="1.0"/><circle cx="46.73" cy="217.08" r="1.0"/><circle cx="51.69" cy="217.12" r="1.0"/><circle cx="55.73" cy="217.16" r="1.0"/><circle cx="59.50" cy="217.26" r="1.0"/><circle cx="62.74" cy="217.38" r="1.0"/><circle cx="65.81" cy="217.53" r="1.0"/><circle cx="68.61" cy="217.69" r="1.0"/><circle cx="71.20" cy="217.89" r="1.0"/><circle cx="73.62" cy="218.20" r="1.0"/><circle cx="75.94" cy="218.59" r="1.0"/><circle cx="78.21" cy="219.03" r="1.0"/><circle cx="80.25" cy="219.47" r="1.0"/><circle cx="82.25" cy="220.00" r="1.0"/><circle cx="84.19" cy="220.64" r="1.0"/><circle cx="86.02" cy="221.33" r="1.0"/><circle cx="87.69" cy="222.00" r="1.0"/><circle cx="89.20" cy="222.62" r="1.0"/><circle cx="90.60" cy="223.25" r="1.0"/><circle cx="91.90" cy="223.86" r="1.0"/><circle cx="93.08" cy="224.45" r="1.0"/><circle cx="94.16" cy="225.03" r="1.0"/><circle cx="95.18" cy="225.61" r="1.0"/><circle cx="96.15" cy="226.19" r="1.0"/><circle cx="97.07" cy="226.77" r="1.0"/><circle cx="97.93" cy="227.37" r="1.0"/><circle cx="98.74" cy="227.97" r="1.0"/><circle cx="99.50" cy="228.57" r="1.0"/><circle cx="100.20" cy="229.14" r="1.0"/><circle cx="100.84" cy="229.68" r="1.0"/><circle cx="101.49" cy="230.23" r="1.0"/><circle cx="102.14" cy="230.78" r="1.0"/><circle cx="102.78" cy="231.34" r="1.0"/><circle cx="103.43" cy="231.90" r="1.0"/><circle cx="104.08" cy="232.46" r="1.0"/><circle cx="104.72" cy="233.01" r="1.0"/><circle cx="105.37" cy="233.56" r="1.0"/><circle cx="106.02" cy="234.12" r="1.0"/><circle cx="106.66" cy="234.69" r="1.0"/><circle cx="107.31" cy="235.27" r="1.0"/><circle cx="107.96" cy="235.86" r="1.0"/><circle cx="108.61" cy="236.44" r="1.0"/><circle cx="109.25" cy="237.02" r="1.0"/><circle cx="109.90" cy="237.60" r="1.0"/><circle cx="110.55" cy="238.18" r="1.0"/><circle cx="111.19" cy="238.74" r="1.0"/><circle cx="111.84" cy="239.29" r="1.0"/><circle cx="112.49" cy="239.83" r="1.0"/><circle cx="113.13" cy="240.36" r="1.0"/><circle cx="113.78" cy="240.88" r="1.0"/><circle cx="114.43" cy="241.40" r="1.0"/><circle cx="115.07" cy="241.91" r="1.0"/><circle cx="115.72" cy="242.42" r="1.0"/><circle cx="116.37" cy="242.92" r="1.0"/><circle cx="117.01" cy="243.42" r="1.0"/><circle cx="117.66" cy="243.92" r="1.0"/><circle cx="118.31" cy="244.42" r="1.0"/><circle cx="118.95" cy="244.91" r="1.0"/><circle cx="119.60" cy="245.40" r="1.0"/><circle cx="120.25" cy="245.89" r="1.0"/><circle cx="120.89" cy="246.37" r="1.0"/><circle cx="121.54" cy="246.84" r="1.0"/><circle cx="122.19" cy="247.30" r="1.0"/><circle cx="122.83" cy="247.74" r="1.0"/><circle cx="123.48" cy="248.20" r="1.0"/><circle cx="124.13" cy="248.68" r="1.0"/><circle cx="124.78" cy="249.16" r="1.0"/><circle cx="125.42" cy="249.63" r="1.0"/><circle cx="126.07" cy="250.07" r="1.0"/><circle cx="126.72" cy="250.49" r="1.0"/><circle cx="127.36" cy="250.86" r="1.0"/><circle cx="128.01" cy="251.17" r="1.0"/><circle cx="128.66" cy="251.41" r="1.0"/><circle cx="129.30" cy="251.61" r="1.0"/><circle cx="129.95" cy="251.80" r="1.0"/><circle cx="130.60" cy="251.98" r="1.0"/><circle cx="131.24" cy="252.15" r="1.0"/><circle cx="131.89" cy="252.29" r="1.0"/><circle cx="132.54" cy="252.41" r="1.0"/><circle cx="133.18" cy="252.49" r="1.0"/><circle cx="133.83" cy="252.53" r="1.0"/><circle cx="134.96" cy="252.50" r="1.0"/><circle cx="135.61" cy="252.44" r="1.0"/><circle cx="136.26" cy="252.35" r="1.0"/><circle cx="136.90" cy="252.23" r="1.0"/><circle cx="137.55" cy="252.09" r="1.0"/><circle cx="138.20" cy="251.93" r="1.0"/><circle cx="138.84" cy="251.76" r="1.0"/><circle cx="139.49" cy="251.57" r="1.0"/><circle cx="140.14" cy="251.38" r="1.0"/><circle cx="140.78" cy="251.10" r="1.0"/><circle cx="141.43" cy="250.73" r="1.0"/><circle cx="142.08" cy="250.28" r="1.0"/><circle cx="142.72" cy="249.79" r="1.0"/><circle cx="143.37" cy="249.27" r="1.0"/><circle cx="144.02" cy="248.75" r="1.0"/><circle cx="144.66" cy="248.24" r="1.0"/><circle cx="145.31" cy="247.76" r="1.0"/><circle cx="145.96" cy="247.28" r="1.0"/><circle cx="146.60" cy="246.79" r="1.0"/><circle cx="147.25" cy="246.29" r="1.0"/><circle cx="147.90" cy="245.78" r="1.0"/><circle cx="148.55" cy="245.27" r="1.0"/><circle cx="149.19" cy="244.75" r="1.0"/><circle cx="149.84" cy="244.24" r="1.0"/><circle cx="150.49" cy="243.73" r="1.0"/><circle cx="151.13" cy="243.23" r="1.0"/><circle cx="151.78" cy="242.74" r="1.0"/><circle cx="152.43" cy="242.26" r="1.0"/><circle cx="153.07" cy="241.80" r="1.0"/><circle cx="153.72" cy="241.35" r="1.0"/><circle cx="154.37" cy="240.92" r="1.0"/><circle cx="155.01" cy="240.50" r="1.0"/><circle cx="155.66" cy="240.09" r="1.0"/><circle cx="156.31" cy="239.68" r="1.0"/><circle cx="156.95" cy="239.27" r="1.0"/><circle cx="157.60" cy="238.87" r="1.0"/><circle cx="158.25" cy="238.46" r="1.0"/><circle cx="158.89" cy="238.05" r="1.0"/><circle cx="159.54" cy="237.63" r="1.0"/><circle cx="160.19" cy="237.20" r="1.0"/><circle cx="160.83" cy="236.76" r="1.0"/><circle cx="161.48" cy="236.30" r="1.0"/><circle cx="162.13" cy="235.82" r="1.0"/><circle cx="162.77" cy="235.33" r="1.0"/><circle cx="163.42" cy="234.83" r="1.0"/><circle cx="164.07" cy="234.32" r="1.0"/><circle cx="164.72" cy="233.81" r="1.0"/><circle cx="165.36" cy="233.28" r="1.0"/><circle cx="166.01" cy="232.76" r="1.0"/><circle cx="166.66" cy="232.24" r="1.0"/><circle cx="167.30" cy="231.73" r="1.0"/><circle cx="167.95" cy="231.22" r="1.0"/><circle cx="168.60" cy="230.71" r="1.0"/><circle cx="169.24" cy="230.23" r="1.0"/><circle cx="169.89" cy="229.75" r="1.0"/><circle cx="170.59" cy="229.26" r="1.0"/><circle cx="171.34" cy="228.74" r="1.0"/><circle cx="172.15" cy="228.18" r="1.0"/><circle cx="173.02" cy="227.59" r="1.0"/><circle cx="173.93" cy="226.97" r="1.0"/><circle cx="174.90" cy="226.34" r="1.0"/><circle cx="175.93" cy="225.70" r="1.0"/><circle cx="177.00" cy="225.05" r="1.0"/><circle cx="178.19" cy="224.40" r="1.0"/><circle cx="179.48" cy="223.76" r="1.0"/><circle cx="180.89" cy="223.10" r="1.0"/><circle cx="182.39" cy="222.42" r="1.0"/><circle cx="184.01" cy="221.76" r="1.0"/><circle cx="185.74" cy="221.12" r="1.0"/><circle cx="187.57" cy="220.55" r="1.0"/><circle cx="189.46" cy="220.06" r="1.0"/><circle cx="191.45" cy="219.59" r="1.0"/><circle cx="193.61" cy="219.13" r="1.0"/><circle cx="195.87" cy="218.73" r="1.0"/><circle cx="198.19" cy="218.42" r="1.0"/><circle cx="200.67" cy="218.18" r="1.0"/><circle cx="203.36" cy="217.96" r="1.0"/><circle cx="206.27" cy="217.76" r="1.0"/><circle cx="209.51" cy="217.57" r="1.0"/><circle cx="213.06" cy="217.43" r="1.0"/><circle cx="217.38" cy="217.32" r="1.0"/><circle cx="222.12" cy="217.24" r="1.0"/><circle cx="227.51" cy="217.17" r="1.0"/><circle cx="235.11" cy="217.09" r="1.0"/></g>
<polyline points="26.84,206.23 47.86,208.55 69.42,210.02 85.59,212.96 101.76,232.07 112.54,249.22 123.32,257.80 134.10,261.48 144.88,258.05 155.66,250.45 166.44,238.94 182.61,219.82 198.78,213.94 220.34,214.56 241.90,215.41" fill="none" stroke="#9a7fc4" stroke-width="0.9" stroke-linejoin="round"/>
<g fill="#6a3a9a"><circle cx="26.84" cy="206.23" r="1.1"/><circle cx="47.86" cy="208.55" r="1.1"/><circle cx="69.42" cy="210.02" r="1.1"/><circle cx="85.59" cy="212.96" r="1.1"/><circle cx="101.76" cy="232.07" r="1.1"/><circle cx="112.54" cy="249.22" r="1.1"/><circle cx="123.32" cy="257.80" r="1.1"/><circle cx="134.10" cy="261.48" r="1.1"/><circle cx="144.88" cy="258.05" r="1.1"/><circle cx="155.66" cy="250.45" r="1.1"/><circle cx="166.44" cy="238.94" r="1.1"/><circle cx="182.61" cy="219.82" r="1.1"/><circle cx="198.78" cy="213.94" r="1.1"/><circle cx="220.34" cy="214.56" r="1.1"/><circle cx="241.90" cy="215.41" r="1.1"/></g>
<polyline points="26.84,200.96 47.86,204.76 69.42,207.58 85.59,215.54 101.76,227.42 112.54,235.75 123.32,243.34 134.10,244.94 144.88,242.37 155.66,236.12 166.44,228.40 182.61,216.88 198.78,213.58 220.34,211.74 241.90,212.11" fill="none" stroke="#7d8a70" stroke-width="0.9" stroke-linejoin="round"/>
<g fill="#3f5a2a"><circle cx="26.84" cy="200.96" r="1.1"/><circle cx="47.86" cy="204.76" r="1.1"/><circle cx="69.42" cy="207.58" r="1.1"/><circle cx="85.59" cy="215.54" r="1.1"/><circle cx="101.76" cy="227.42" r="1.1"/><circle cx="112.54" cy="235.75" r="1.1"/><circle cx="123.32" cy="243.34" r="1.1"/><circle cx="134.10" cy="244.94" r="1.1"/><circle cx="144.88" cy="242.37" r="1.1"/><circle cx="155.66" cy="236.12" r="1.1"/><circle cx="166.44" cy="228.40" r="1.1"/><circle cx="182.61" cy="216.88" r="1.1"/><circle cx="198.78" cy="213.58" r="1.1"/><circle cx="220.34" cy="211.74" r="1.1"/><circle cx="241.90" cy="212.11" r="1.1"/></g>
<text x="135.35" y="317.10" font-size="5.5" text-anchor="middle" fill="#404040" stroke="#404040" stroke-width="0.18" textLength="56.7" lengthAdjust="spacingAndGlyphs" font-family="Liberation Sans" >Cross-stream position, y/D</text>
<text transform="translate(9.90,243.90) rotate(-90)" x="0" y="1.80" font-size="5.0" text-anchor="middle" fill="#404040" stroke="#404040" stroke-width="0.18" textLength="57.6" lengthAdjust="spacingAndGlyphs" font-family="Liberation Sans">Normalised axial velocity</text>
<rect x="181.30" y="263.30" width="59.50" height="31.30" fill="#fff" stroke="#c4c4c4" stroke-width="1"/>
<line x1="182.80" y1="267.40" x2="188.60" y2="267.40" stroke="#9a7fc4" stroke-width="0.9"/>
<circle cx="185.70" cy="267.40" r="1.1" fill="#6a3a9a"/>
<text x="189.60" y="269.13" font-size="4.8" text-anchor="start" fill="#404040" stroke="#404040" stroke-width="0.18" textLength="48.8" lengthAdjust="spacingAndGlyphs" font-family="Liberation Sans" >Exp. From [26], x/D = 5</text>
<line x1="182.80" y1="274.90" x2="188.60" y2="274.90" stroke="#7d8a70" stroke-width="0.9"/>
<circle cx="185.70" cy="274.90" r="1.1" fill="#3f5a2a"/>
<text x="189.60" y="276.63" font-size="4.8" text-anchor="start" fill="#404040" stroke="#404040" stroke-width="0.18" textLength="48.5" lengthAdjust="spacingAndGlyphs" font-family="Liberation Sans" >Exp. from [26], x/D = 7</text>
<circle cx="185.70" cy="282.30" r="1.1" fill="#6a2fa0"/>
<text x="189.60" y="284.03" font-size="4.8" text-anchor="start" fill="#404040" stroke="#404040" stroke-width="0.18" textLength="28.4" lengthAdjust="spacingAndGlyphs" font-family="Liberation Sans" >VBM, x/D = 5</text>
<circle cx="185.70" cy="289.90" r="1.1" fill="#3d5f22"/>
<text x="189.60" y="291.63" font-size="4.8" text-anchor="start" fill="#404040" stroke="#404040" stroke-width="0.18" textLength="28.4" lengthAdjust="spacingAndGlyphs" font-family="Liberation Sans" >VBM, x/D = 7</text>
<path d="M291.50 191.70V302.98M323.05 191.70V302.98M354.60 191.70V302.98M386.15 191.70V302.98M417.70 191.70V302.98M449.25 191.70V302.98M480.80 191.70V302.98M512.35 191.70V302.98M543.90 191.70V302.98M291.50 302.98H543.90M291.50 275.16H543.90M291.50 247.34H543.90M291.50 219.52H543.90M291.50 191.70H543.90" stroke="#f0f0f0" stroke-width="0.9" fill="none"/>
<text x="291.50" y="312.65" font-size="6.3" text-anchor="middle" fill="#404040" stroke="#404040" stroke-width="0.18" textLength="5.2" lengthAdjust="spacingAndGlyphs" font-family="Liberation Sans" >-2</text>
<text x="323.05" y="312.65" font-size="6.3" text-anchor="middle" fill="#404040" stroke="#404040" stroke-width="0.18" textLength="10.1" lengthAdjust="spacingAndGlyphs" font-family="Liberation Sans" >-1.5</text>
<text x="354.60" y="312.65" font-size="6.3" text-anchor="middle" fill="#404040" stroke="#404040" stroke-width="0.18" textLength="5.2" lengthAdjust="spacingAndGlyphs" font-family="Liberation Sans" >-1</text>
<text x="386.15" y="312.65" font-size="6.3" text-anchor="middle" fill="#404040" stroke="#404040" stroke-width="0.18" textLength="10.1" lengthAdjust="spacingAndGlyphs" font-family="Liberation Sans" >-0.5</text>
<text x="417.70" y="312.65" font-size="6.3" text-anchor="middle" fill="#404040" stroke="#404040" stroke-width="0.18" textLength="3.3" lengthAdjust="spacingAndGlyphs" font-family="Liberation Sans" >0</text>
<text x="449.25" y="312.65" font-size="6.3" text-anchor="middle" fill="#404040" stroke="#404040" stroke-width="0.18" textLength="8.1" lengthAdjust="spacingAndGlyphs" font-family="Liberation Sans" >0.5</text>
<text x="480.80" y="312.65" font-size="6.3" text-anchor="middle" fill="#404040" stroke="#404040" stroke-width="0.18" textLength="3.3" lengthAdjust="spacingAndGlyphs" font-family="Liberation Sans" >1</text>
<text x="512.35" y="312.65" font-size="6.3" text-anchor="middle" fill="#404040" stroke="#404040" stroke-width="0.18" textLength="8.1" lengthAdjust="spacingAndGlyphs" font-family="Liberation Sans" >1.5</text>
<text x="543.90" y="312.65" font-size="6.3" text-anchor="middle" fill="#404040" stroke="#404040" stroke-width="0.18" textLength="3.3" lengthAdjust="spacingAndGlyphs" font-family="Liberation Sans" >2</text>
<text x="287.60" y="305.85" font-size="6.3" text-anchor="end" fill="#404040" stroke="#404040" stroke-width="0.18" textLength="8.1" lengthAdjust="spacingAndGlyphs" font-family="Liberation Sans" >0.4</text>
<text x="287.60" y="278.03" font-size="6.3" text-anchor="end" fill="#404040" stroke="#404040" stroke-width="0.18" textLength="8.1" lengthAdjust="spacingAndGlyphs" font-family="Liberation Sans" >0.6</text>
<text x="287.60" y="250.21" font-size="6.3" text-anchor="end" fill="#404040" stroke="#404040" stroke-width="0.18" textLength="8.1" lengthAdjust="spacingAndGlyphs" font-family="Liberation Sans" >0.8</text>
<text x="287.60" y="222.39" font-size="6.3" text-anchor="end" fill="#404040" stroke="#404040" stroke-width="0.18" textLength="3.3" lengthAdjust="spacingAndGlyphs" font-family="Liberation Sans" >1</text>
<text x="287.60" y="194.57" font-size="6.3" text-anchor="end" fill="#404040" stroke="#404040" stroke-width="0.18" textLength="8.1" lengthAdjust="spacingAndGlyphs" font-family="Liberation Sans" >1.2</text>
<g fill="#19b5ef"><circle cx="294.78" cy="209.67" r="1.25"/><circle cx="305.64" cy="209.74" r="1.25"/><circle cx="312.75" cy="209.85" r="1.25"/><circle cx="318.21" cy="210.05" r="1.25"/><circle cx="322.66" cy="210.27" r="1.25"/><circle cx="326.81" cy="210.52" r="1.25"/><circle cx="330.37" cy="210.75" r="1.25"/><circle cx="333.75" cy="211.05" r="1.25"/><circle cx="336.83" cy="211.37" r="1.25"/><circle cx="339.68" cy="211.70" r="1.25"/><circle cx="342.35" cy="212.04" r="1.25"/><circle cx="344.90" cy="212.39" r="1.25"/><circle cx="347.39" cy="212.78" r="1.25"/><circle cx="349.65" cy="213.17" r="1.25"/><circle cx="351.84" cy="213.58" r="1.25"/><circle cx="353.98" cy="214.03" r="1.25"/><circle cx="355.99" cy="214.51" r="1.25"/><circle cx="357.83" cy="215.01" r="1.25"/><circle cx="359.49" cy="215.51" r="1.25"/><circle cx="361.03" cy="216.01" r="1.25"/><circle cx="362.46" cy="216.50" r="1.25"/><circle cx="363.76" cy="216.98" r="1.25"/><circle cx="364.95" cy="217.48" r="1.25"/><circle cx="366.08" cy="217.99" r="1.25"/><circle cx="367.14" cy="218.51" r="1.25"/><circle cx="368.15" cy="219.02" r="1.25"/><circle cx="369.10" cy="219.50" r="1.25"/><circle cx="369.99" cy="219.96" r="1.25"/><circle cx="370.82" cy="220.38" r="1.25"/><circle cx="371.59" cy="220.77" r="1.25"/><circle cx="372.30" cy="221.13" r="1.25"/><circle cx="373.02" cy="221.49" r="1.25"/><circle cx="373.73" cy="221.86" r="1.25"/><circle cx="374.44" cy="222.23" r="1.25"/><circle cx="375.15" cy="222.60" r="1.25"/><circle cx="375.86" cy="222.98" r="1.25"/><circle cx="376.58" cy="223.36" r="1.25"/><circle cx="377.29" cy="223.74" r="1.25"/><circle cx="378.00" cy="224.11" r="1.25"/><circle cx="378.71" cy="224.49" r="1.25"/><circle cx="379.42" cy="224.87" r="1.25"/><circle cx="380.13" cy="225.25" r="1.25"/><circle cx="380.85" cy="225.64" r="1.25"/><circle cx="381.56" cy="226.02" r="1.25"/><circle cx="382.27" cy="226.41" r="1.25"/><circle cx="382.98" cy="226.79" r="1.25"/><circle cx="383.69" cy="227.18" r="1.25"/><circle cx="384.40" cy="227.56" r="1.25"/><circle cx="385.12" cy="227.94" r="1.25"/><circle cx="385.83" cy="228.33" r="1.25"/><circle cx="386.54" cy="228.71" r="1.25"/><circle cx="387.25" cy="229.09" r="1.25"/><circle cx="387.96" cy="229.49" r="1.25"/><circle cx="388.68" cy="229.89" r="1.25"/><circle cx="389.39" cy="230.30" r="1.25"/><circle cx="390.10" cy="230.71" r="1.25"/><circle cx="390.81" cy="231.13" r="1.25"/><circle cx="391.52" cy="231.56" r="1.25"/><circle cx="392.23" cy="231.99" r="1.25"/><circle cx="392.95" cy="232.45" r="1.25"/><circle cx="393.66" cy="232.93" r="1.25"/><circle cx="394.37" cy="233.39" r="1.25"/><circle cx="395.08" cy="233.83" r="1.25"/><circle cx="395.79" cy="234.24" r="1.25"/><circle cx="396.50" cy="234.62" r="1.25"/><circle cx="397.22" cy="235.00" r="1.25"/><circle cx="397.93" cy="235.36" r="1.25"/><circle cx="398.64" cy="235.73" r="1.25"/><circle cx="399.35" cy="236.09" r="1.25"/><circle cx="400.06" cy="236.45" r="1.25"/><circle cx="400.78" cy="236.81" r="1.25"/><circle cx="401.49" cy="237.17" r="1.25"/><circle cx="402.20" cy="237.54" r="1.25"/><circle cx="402.91" cy="237.93" r="1.25"/><circle cx="403.62" cy="238.33" r="1.25"/><circle cx="404.33" cy="238.72" r="1.25"/><circle cx="405.05" cy="239.07" r="1.25"/><circle cx="405.76" cy="239.36" r="1.25"/><circle cx="406.47" cy="239.63" r="1.25"/><circle cx="407.18" cy="239.86" r="1.25"/><circle cx="407.89" cy="240.08" r="1.25"/><circle cx="408.60" cy="240.28" r="1.25"/><circle cx="409.32" cy="240.48" r="1.25"/><circle cx="410.03" cy="240.67" r="1.25"/><circle cx="410.74" cy="240.84" r="1.25"/><circle cx="411.45" cy="240.99" r="1.25"/><circle cx="412.16" cy="241.10" r="1.25"/><circle cx="412.88" cy="241.19" r="1.25"/><circle cx="413.59" cy="241.28" r="1.25"/><circle cx="414.30" cy="241.36" r="1.25"/><circle cx="415.01" cy="241.42" r="1.25"/><circle cx="415.72" cy="241.47" r="1.25"/><circle cx="416.43" cy="241.49" r="1.25"/><circle cx="417.15" cy="241.49" r="1.25"/><circle cx="418.15" cy="241.45" r="1.25"/><circle cx="418.86" cy="241.39" r="1.25"/><circle cx="419.57" cy="241.32" r="1.25"/><circle cx="420.28" cy="241.24" r="1.25"/><circle cx="421.00" cy="241.14" r="1.25"/><circle cx="421.71" cy="241.05" r="1.25"/><circle cx="422.42" cy="240.92" r="1.25"/><circle cx="423.13" cy="240.76" r="1.25"/><circle cx="423.84" cy="240.57" r="1.25"/><circle cx="424.56" cy="240.38" r="1.25"/><circle cx="425.27" cy="240.18" r="1.25"/><circle cx="425.98" cy="239.97" r="1.25"/><circle cx="426.69" cy="239.74" r="1.25"/><circle cx="427.40" cy="239.50" r="1.25"/><circle cx="428.11" cy="239.22" r="1.25"/><circle cx="428.83" cy="238.89" r="1.25"/><circle cx="429.54" cy="238.52" r="1.25"/><circle cx="430.25" cy="238.13" r="1.25"/><circle cx="430.96" cy="237.73" r="1.25"/><circle cx="431.67" cy="237.34" r="1.25"/><circle cx="432.38" cy="236.98" r="1.25"/><circle cx="433.10" cy="236.62" r="1.25"/><circle cx="433.81" cy="236.27" r="1.25"/><circle cx="434.52" cy="235.91" r="1.25"/><circle cx="435.23" cy="235.54" r="1.25"/><circle cx="435.94" cy="235.17" r="1.25"/><circle cx="436.66" cy="234.81" r="1.25"/><circle cx="437.37" cy="234.43" r="1.25"/><circle cx="438.08" cy="234.03" r="1.25"/><circle cx="438.79" cy="233.61" r="1.25"/><circle cx="439.50" cy="233.16" r="1.25"/><circle cx="440.21" cy="232.68" r="1.25"/><circle cx="440.93" cy="232.22" r="1.25"/><circle cx="441.64" cy="231.77" r="1.25"/><circle cx="442.35" cy="231.34" r="1.25"/><circle cx="443.06" cy="230.91" r="1.25"/><circle cx="443.77" cy="230.50" r="1.25"/><circle cx="444.48" cy="230.09" r="1.25"/><circle cx="445.20" cy="229.68" r="1.25"/><circle cx="445.91" cy="229.29" r="1.25"/><circle cx="446.62" cy="228.90" r="1.25"/><circle cx="447.33" cy="228.51" r="1.25"/><circle cx="448.04" cy="228.13" r="1.25"/><circle cx="448.76" cy="227.75" r="1.25"/><circle cx="449.47" cy="227.37" r="1.25"/><circle cx="450.18" cy="226.98" r="1.25"/><circle cx="450.89" cy="226.59" r="1.25"/><circle cx="451.60" cy="226.21" r="1.25"/><circle cx="452.31" cy="225.82" r="1.25"/><circle cx="453.03" cy="225.44" r="1.25"/><circle cx="453.74" cy="225.06" r="1.25"/><circle cx="454.45" cy="224.68" r="1.25"/><circle cx="455.16" cy="224.30" r="1.25"/><circle cx="455.87" cy="223.92" r="1.25"/><circle cx="456.58" cy="223.54" r="1.25"/><circle cx="457.30" cy="223.16" r="1.25"/><circle cx="458.01" cy="222.79" r="1.25"/><circle cx="458.72" cy="222.41" r="1.25"/><circle cx="459.43" cy="222.04" r="1.25"/><circle cx="460.14" cy="221.67" r="1.25"/><circle cx="460.86" cy="221.30" r="1.25"/><circle cx="461.57" cy="220.94" r="1.25"/><circle cx="462.28" cy="220.59" r="1.25"/><circle cx="462.99" cy="220.23" r="1.25"/><circle cx="463.70" cy="219.86" r="1.25"/><circle cx="464.41" cy="219.50" r="1.25"/><circle cx="465.13" cy="219.13" r="1.25"/><circle cx="465.90" cy="218.74" r="1.25"/><circle cx="466.73" cy="218.33" r="1.25"/><circle cx="467.62" cy="217.91" r="1.25"/><circle cx="468.57" cy="217.48" r="1.25"/><circle cx="469.57" cy="217.05" r="1.25"/><circle cx="470.64" cy="216.65" r="1.25"/><circle cx="471.77" cy="216.25" r="1.25"/><circle cx="472.96" cy="215.85" r="1.25"/><circle cx="474.26" cy="215.43" r="1.25"/><circle cx="475.68" cy="215.00" r="1.25"/><circle cx="477.23" cy="214.58" r="1.25"/><circle cx="478.89" cy="214.17" r="1.25"/><circle cx="480.67" cy="213.78" r="1.25"/><circle cx="482.56" cy="213.41" r="1.25"/><circle cx="484.58" cy="213.04" r="1.25"/><circle cx="486.66" cy="212.69" r="1.25"/><circle cx="488.85" cy="212.36" r="1.25"/><circle cx="491.22" cy="212.03" r="1.25"/><circle cx="493.72" cy="211.72" r="1.25"/><circle cx="496.27" cy="211.42" r="1.25"/><circle cx="498.99" cy="211.13" r="1.25"/><circle cx="501.96" cy="210.85" r="1.25"/><circle cx="505.16" cy="210.61" r="1.25"/><circle cx="508.72" cy="210.40" r="1.25"/><circle cx="512.64" cy="210.18" r="1.25"/><circle cx="517.38" cy="209.96" r="1.25"/><circle cx="522.60" cy="209.81" r="1.25"/><circle cx="528.53" cy="209.74" r="1.25"/><circle cx="536.90" cy="209.68" r="1.25"/></g>
<g fill="#c00000"><circle cx="292.13" cy="208.53" r="1.25"/><circle cx="302.99" cy="208.67" r="1.25"/><circle cx="310.10" cy="208.78" r="1.25"/><circle cx="315.56" cy="208.92" r="1.25"/><circle cx="320.01" cy="209.09" r="1.25"/><circle cx="324.16" cy="209.29" r="1.25"/><circle cx="327.72" cy="209.49" r="1.25"/><circle cx="331.10" cy="209.70" r="1.25"/><circle cx="334.18" cy="209.94" r="1.25"/><circle cx="337.03" cy="210.21" r="1.25"/><circle cx="339.70" cy="210.51" r="1.25"/><circle cx="342.25" cy="210.81" r="1.25"/><circle cx="344.74" cy="211.13" r="1.25"/><circle cx="347.00" cy="211.45" r="1.25"/><circle cx="349.19" cy="211.79" r="1.25"/><circle cx="351.33" cy="212.15" r="1.25"/><circle cx="353.34" cy="212.52" r="1.25"/><circle cx="355.18" cy="212.88" r="1.25"/><circle cx="356.84" cy="213.23" r="1.25"/><circle cx="358.38" cy="213.58" r="1.25"/><circle cx="359.81" cy="213.92" r="1.25"/><circle cx="361.11" cy="214.26" r="1.25"/><circle cx="362.30" cy="214.61" r="1.25"/><circle cx="363.43" cy="214.97" r="1.25"/><circle cx="364.49" cy="215.34" r="1.25"/><circle cx="365.50" cy="215.71" r="1.25"/><circle cx="366.45" cy="216.07" r="1.25"/><circle cx="367.34" cy="216.42" r="1.25"/><circle cx="368.17" cy="216.76" r="1.25"/><circle cx="368.94" cy="217.08" r="1.25"/><circle cx="369.65" cy="217.37" r="1.25"/><circle cx="370.37" cy="217.67" r="1.25"/><circle cx="371.08" cy="217.97" r="1.25"/><circle cx="371.79" cy="218.27" r="1.25"/><circle cx="372.50" cy="218.58" r="1.25"/><circle cx="373.21" cy="218.88" r="1.25"/><circle cx="373.93" cy="219.17" r="1.25"/><circle cx="374.64" cy="219.47" r="1.25"/><circle cx="375.35" cy="219.76" r="1.25"/><circle cx="376.06" cy="220.06" r="1.25"/><circle cx="376.77" cy="220.37" r="1.25"/><circle cx="377.48" cy="220.68" r="1.25"/><circle cx="378.20" cy="221.00" r="1.25"/><circle cx="378.91" cy="221.32" r="1.25"/><circle cx="379.62" cy="221.64" r="1.25"/><circle cx="380.33" cy="221.95" r="1.25"/><circle cx="381.04" cy="222.26" r="1.25"/><circle cx="381.75" cy="222.55" r="1.25"/><circle cx="382.47" cy="222.83" r="1.25"/><circle cx="383.18" cy="223.10" r="1.25"/><circle cx="383.89" cy="223.36" r="1.25"/><circle cx="384.60" cy="223.62" r="1.25"/><circle cx="385.31" cy="223.87" r="1.25"/><circle cx="386.03" cy="224.12" r="1.25"/><circle cx="386.74" cy="224.37" r="1.25"/><circle cx="387.45" cy="224.61" r="1.25"/><circle cx="388.16" cy="224.86" r="1.25"/><circle cx="388.87" cy="225.10" r="1.25"/><circle cx="389.58" cy="225.34" r="1.25"/><circle cx="390.30" cy="225.59" r="1.25"/><circle cx="391.01" cy="225.83" r="1.25"/><circle cx="391.72" cy="226.07" r="1.25"/><circle cx="392.43" cy="226.32" r="1.25"/><circle cx="393.14" cy="226.57" r="1.25"/><circle cx="393.85" cy="226.83" r="1.25"/><circle cx="394.57" cy="227.08" r="1.25"/><circle cx="395.28" cy="227.34" r="1.25"/><circle cx="395.99" cy="227.60" r="1.25"/><circle cx="396.70" cy="227.85" r="1.25"/><circle cx="397.41" cy="228.09" r="1.25"/><circle cx="398.13" cy="228.33" r="1.25"/><circle cx="398.84" cy="228.56" r="1.25"/><circle cx="399.55" cy="228.79" r="1.25"/><circle cx="400.26" cy="229.01" r="1.25"/><circle cx="400.97" cy="229.22" r="1.25"/><circle cx="401.68" cy="229.43" r="1.25"/><circle cx="402.40" cy="229.64" r="1.25"/><circle cx="403.11" cy="229.84" r="1.25"/><circle cx="403.82" cy="230.04" r="1.25"/><circle cx="404.53" cy="230.23" r="1.25"/><circle cx="405.24" cy="230.42" r="1.25"/><circle cx="405.95" cy="230.60" r="1.25"/><circle cx="406.67" cy="230.79" r="1.25"/><circle cx="407.38" cy="230.97" r="1.25"/><circle cx="408.09" cy="231.15" r="1.25"/><circle cx="408.80" cy="231.33" r="1.25"/><circle cx="409.51" cy="231.49" r="1.25"/><circle cx="410.23" cy="231.65" r="1.25"/><circle cx="410.94" cy="231.80" r="1.25"/><circle cx="411.65" cy="231.93" r="1.25"/><circle cx="412.36" cy="232.04" r="1.25"/><circle cx="413.07" cy="232.15" r="1.25"/><circle cx="413.78" cy="232.26" r="1.25"/><circle cx="414.50" cy="232.37" r="1.25"/><circle cx="415.21" cy="232.47" r="1.25"/><circle cx="415.92" cy="232.56" r="1.25"/><circle cx="416.63" cy="232.63" r="1.25"/><circle cx="417.34" cy="232.69" r="1.25"/><circle cx="418.39" cy="232.73" r="1.25"/><circle cx="419.11" cy="232.73" r="1.25"/><circle cx="419.82" cy="232.70" r="1.25"/><circle cx="420.53" cy="232.64" r="1.25"/><circle cx="421.24" cy="232.57" r="1.25"/><circle cx="421.95" cy="232.48" r="1.25"/><circle cx="422.66" cy="232.38" r="1.25"/><circle cx="423.38" cy="232.28" r="1.25"/><circle cx="424.09" cy="232.17" r="1.25"/><circle cx="424.80" cy="232.06" r="1.25"/><circle cx="425.51" cy="231.95" r="1.25"/><circle cx="426.22" cy="231.82" r="1.25"/><circle cx="426.94" cy="231.68" r="1.25"/><circle cx="427.65" cy="231.52" r="1.25"/><circle cx="428.36" cy="231.36" r="1.25"/><circle cx="429.07" cy="231.18" r="1.25"/><circle cx="429.78" cy="231.00" r="1.25"/><circle cx="430.49" cy="230.82" r="1.25"/><circle cx="431.21" cy="230.64" r="1.25"/><circle cx="431.92" cy="230.46" r="1.25"/><circle cx="432.63" cy="230.27" r="1.25"/><circle cx="433.34" cy="230.08" r="1.25"/><circle cx="434.05" cy="229.88" r="1.25"/><circle cx="434.76" cy="229.68" r="1.25"/><circle cx="435.48" cy="229.47" r="1.25"/><circle cx="436.19" cy="229.26" r="1.25"/><circle cx="436.90" cy="229.05" r="1.25"/><circle cx="437.61" cy="228.83" r="1.25"/><circle cx="438.32" cy="228.60" r="1.25"/><circle cx="439.04" cy="228.38" r="1.25"/><circle cx="439.75" cy="228.14" r="1.25"/><circle cx="440.46" cy="227.89" r="1.25"/><circle cx="441.17" cy="227.64" r="1.25"/><circle cx="441.88" cy="227.39" r="1.25"/><circle cx="442.59" cy="227.13" r="1.25"/><circle cx="443.31" cy="226.87" r="1.25"/><circle cx="444.02" cy="226.62" r="1.25"/><circle cx="444.73" cy="226.37" r="1.25"/><circle cx="445.44" cy="226.12" r="1.25"/><circle cx="446.15" cy="225.87" r="1.25"/><circle cx="446.86" cy="225.63" r="1.25"/><circle cx="447.58" cy="225.39" r="1.25"/><circle cx="448.29" cy="225.15" r="1.25"/><circle cx="449.00" cy="224.90" r="1.25"/><circle cx="449.71" cy="224.66" r="1.25"/><circle cx="450.42" cy="224.41" r="1.25"/><circle cx="451.14" cy="224.16" r="1.25"/><circle cx="451.85" cy="223.91" r="1.25"/><circle cx="452.56" cy="223.66" r="1.25"/><circle cx="453.27" cy="223.41" r="1.25"/><circle cx="453.98" cy="223.15" r="1.25"/><circle cx="454.69" cy="222.88" r="1.25"/><circle cx="455.41" cy="222.61" r="1.25"/><circle cx="456.12" cy="222.31" r="1.25"/><circle cx="456.83" cy="222.01" r="1.25"/><circle cx="457.54" cy="221.70" r="1.25"/><circle cx="458.25" cy="221.38" r="1.25"/><circle cx="458.96" cy="221.06" r="1.25"/><circle cx="459.68" cy="220.74" r="1.25"/><circle cx="460.39" cy="220.42" r="1.25"/><circle cx="461.10" cy="220.11" r="1.25"/><circle cx="461.81" cy="219.81" r="1.25"/><circle cx="462.52" cy="219.52" r="1.25"/><circle cx="463.24" cy="219.23" r="1.25"/><circle cx="463.95" cy="218.93" r="1.25"/><circle cx="464.66" cy="218.63" r="1.25"/><circle cx="465.37" cy="218.33" r="1.25"/><circle cx="466.08" cy="218.03" r="1.25"/><circle cx="466.79" cy="217.73" r="1.25"/><circle cx="467.51" cy="217.43" r="1.25"/><circle cx="468.22" cy="217.13" r="1.25"/><circle cx="468.99" cy="216.81" r="1.25"/><circle cx="469.82" cy="216.48" r="1.25"/><circle cx="470.71" cy="216.12" r="1.25"/><circle cx="471.66" cy="215.76" r="1.25"/><circle cx="472.67" cy="215.39" r="1.25"/><circle cx="473.73" cy="215.02" r="1.25"/><circle cx="474.86" cy="214.65" r="1.25"/><circle cx="476.05" cy="214.29" r="1.25"/><circle cx="477.35" cy="213.95" r="1.25"/><circle cx="478.78" cy="213.61" r="1.25"/><circle cx="480.32" cy="213.26" r="1.25"/><circle cx="481.98" cy="212.91" r="1.25"/><circle cx="483.76" cy="212.56" r="1.25"/><circle cx="485.66" cy="212.21" r="1.25"/><circle cx="487.67" cy="211.86" r="1.25"/><circle cx="489.75" cy="211.53" r="1.25"/><circle cx="491.94" cy="211.22" r="1.25"/><circle cx="494.32" cy="210.90" r="1.25"/><circle cx="496.81" cy="210.60" r="1.25"/><circle cx="499.36" cy="210.31" r="1.25"/><circle cx="502.09" cy="210.03" r="1.25"/><circle cx="505.05" cy="209.78" r="1.25"/><circle cx="508.25" cy="209.57" r="1.25"/><circle cx="511.81" cy="209.36" r="1.25"/><circle cx="515.73" cy="209.16" r="1.25"/><circle cx="520.47" cy="208.97" r="1.25"/><circle cx="525.69" cy="208.81" r="1.25"/><circle cx="531.62" cy="208.70" r="1.25"/><circle cx="539.99" cy="208.60" r="1.25"/></g>
<polyline points="316.74,194.06 341.98,200.88 360.91,206.72 379.84,216.88 392.46,224.81 405.08,229.26 417.70,231.62 430.32,229.26 442.94,225.78 455.56,219.52 474.49,209.64 493.42,203.11 518.66,202.41 543.90,201.85" fill="none" stroke="#3cc0f0" stroke-width="0.9" stroke-linejoin="round"/>
<g fill="#1aa8e0"><path d="M316.74 192.86L317.94 195.02L315.54 195.02Z"/><path d="M341.98 199.68L343.18 201.84L340.78 201.84Z"/><path d="M360.91 205.52L362.11 207.68L359.71 207.68Z"/><path d="M379.84 215.68L381.04 217.84L378.64 217.84Z"/><path d="M392.46 223.61L393.66 225.77L391.26 225.77Z"/><path d="M405.08 228.06L406.28 230.22L403.88 230.22Z"/><path d="M417.70 230.42L418.90 232.58L416.50 232.58Z"/><path d="M430.32 228.06L431.52 230.22L429.12 230.22Z"/><path d="M442.94 224.58L444.14 226.74L441.74 226.74Z"/><path d="M455.56 218.32L456.76 220.48L454.36 220.48Z"/><path d="M474.49 208.44L475.69 210.60L473.29 210.60Z"/><path d="M493.42 201.91L494.62 204.07L492.22 204.07Z"/><path d="M518.66 201.21L519.86 203.37L517.46 203.37Z"/><path d="M543.90 200.65L545.10 202.81L542.70 202.81Z"/></g>
<polyline points="316.74,196.15 341.98,200.88 360.91,206.86 379.84,217.57 392.46,220.77 405.08,222.86 417.70,226.47 430.32,225.36 442.94,219.94 455.56,218.82 474.49,212.70 493.42,204.50 518.66,203.11 543.90,200.46" fill="none" stroke="#d42020" stroke-width="0.9" stroke-linejoin="round"/>
<g fill="#b00000"><path d="M316.74 194.95L317.94 196.15L316.74 197.35L315.54 196.15Z"/><path d="M341.98 199.68L343.18 200.88L341.98 202.08L340.78 200.88Z"/><path d="M360.91 205.66L362.11 206.86L360.91 208.06L359.71 206.86Z"/><path d="M379.84 216.37L381.04 217.57L379.84 218.77L378.64 217.57Z"/><path d="M392.46 219.57L393.66 220.77L392.46 221.97L391.26 220.77Z"/><path d="M405.08 221.66L406.28 222.86L405.08 224.06L403.88 222.86Z"/><path d="M417.70 225.28L418.90 226.47L417.70 227.67L416.50 226.47Z"/><path d="M430.32 224.16L431.52 225.36L430.32 226.56L429.12 225.36Z"/><path d="M442.94 218.74L444.14 219.94L442.94 221.14L441.74 219.94Z"/><path d="M455.56 217.62L456.76 218.82L455.56 220.02L454.36 218.82Z"/><path d="M474.49 211.50L475.69 212.70L474.49 213.90L473.29 212.70Z"/><path d="M493.42 203.30L494.62 204.50L493.42 205.70L492.22 204.50Z"/><path d="M518.66 201.91L519.86 203.11L518.66 204.31L517.46 203.11Z"/><path d="M543.90 199.26L545.10 200.46L543.90 201.66L542.70 200.46Z"/></g>
<text x="415.95" y="326.90" font-size="5.5" text-anchor="middle" fill="#404040" stroke="#404040" stroke-width="0.18" textLength="65.3" lengthAdjust="spacingAndGlyphs" font-family="Liberation Sans" >Cross-stream position, y/D</text>
<text transform="translate(269.80,240.50) rotate(-90)" x="0" y="1.98" font-size="5.5" text-anchor="middle" fill="#404040" stroke="#404040" stroke-width="0.18" textLength="64.6" lengthAdjust="spacingAndGlyphs" font-family="Liberation Sans">Normalised axial velocity</text>
<rect x="467.90" y="262.40" width="72.30" height="34.80" fill="#fff" stroke="#c4c4c4" stroke-width="1"/>
<line x1="469.40" y1="266.80" x2="477.80" y2="266.80" stroke="#3cc0f0" stroke-width="0.9"/>
<circle cx="473.60" cy="266.80" r="1.1" fill="#1aa8e0"/>
<text x="478.80" y="268.78" font-size="5.5" text-anchor="start" fill="#404040" stroke="#404040" stroke-width="0.18" textLength="56.6" lengthAdjust="spacingAndGlyphs" font-family="Liberation Sans" >Exp. From [26], x/D = 9</text>
<line x1="469.40" y1="275.50" x2="477.80" y2="275.50" stroke="#d42020" stroke-width="0.9"/>
<circle cx="473.60" cy="275.50" r="1.1" fill="#b00000"/>
<text x="478.80" y="277.48" font-size="5.5" text-anchor="start" fill="#404040" stroke="#404040" stroke-width="0.18" textLength="58.9" lengthAdjust="spacingAndGlyphs" font-family="Liberation Sans" >Exp. from [26], x/D = 12</text>
<circle cx="473.60" cy="284.10" r="1.1" fill="#19b5ef"/>
<text x="478.80" y="286.08" font-size="5.5" text-anchor="start" fill="#404040" stroke="#404040" stroke-width="0.18" textLength="32.3" lengthAdjust="spacingAndGlyphs" font-family="Liberation Sans" >VBM, x/D = 9</text>
<circle cx="473.60" cy="292.60" r="1.1" fill="#c00000"/>
<text x="478.80" y="294.58" font-size="5.5" text-anchor="start" fill="#404040" stroke="#404040" stroke-width="0.18" textLength="35.4" lengthAdjust="spacingAndGlyphs" font-family="Liberation Sans" >VBM, x/D = 12</text>
<text x="112.10" y="166.12" font-size="12.6" text-anchor="middle" fill="#000" font-family="Liberation Serif" textLength="14.4" lengthAdjust="spacingAndGlyphs">(<tspan font-weight="bold">a</tspan>)</text>
<text x="392.65" y="166.12" font-size="12.6" text-anchor="middle" fill="#000" font-family="Liberation Serif" textLength="15.5" lengthAdjust="spacingAndGlyphs">(<tspan font-weight="bold">b</tspan>)</text>
<text x="112.05" y="351.22" font-size="12.6" text-anchor="middle" fill="#000" font-family="Liberation Serif" textLength="13.1" lengthAdjust="spacingAndGlyphs">(<tspan font-weight="bold">c</tspan>)</text>
<text x="392.65" y="351.32" font-size="12.6" text-anchor="middle" fill="#000" font-family="Liberation Serif" textLength="15.5" lengthAdjust="spacingAndGlyphs">(<tspan font-weight="bold">d</tspan>)</text>
</svg>
</body></html>
